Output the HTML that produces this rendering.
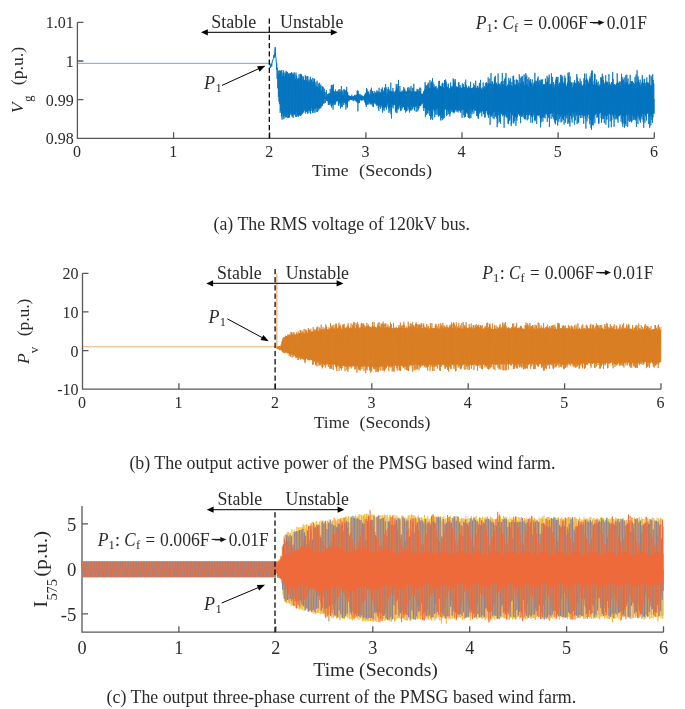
<!DOCTYPE html>
<html lang="en"><head><meta charset="utf-8"><title>Figure</title>
<style>html,body{margin:0;padding:0;background:#fff}svg{display:block}text{font-family:"Liberation Serif","Times New Roman",serif}</style>
</head><body>
<svg width="685" height="709" viewBox="0 0 685 709">
<rect width="685" height="709" fill="#fff"/>
<path d="M77.4 63.3H269.5" stroke="#0072bd" stroke-width="0.9" fill="none" opacity="0.68"/>
<polyline points="269.5,63.3 270,64.5 270.5,68 271.1,63.5 271.7,66.5 272.3,61 272.9,60 273.4,58.5 273.9,55 274.4,57.5 274.8,52 275.2,47.2 275.6,56 276,58 276.4,64" fill="none" stroke="#0072bd" stroke-width="1.0" stroke-linejoin="round"/>
<polyline points="276.4,64 276.5,69.4 276.8,63.5 277.1,78.9 277.4,67.8 277.7,88.3 278.1,74.6 278.4,97.1 278.7,70.9 279,101.8 279.3,70.2 279.6,104.2 279.9,73.2 280.2,112.9 280.5,70.9 280.8,110.9 281.2,70.4 281.5,116.3 281.8,70 282.1,119.7 282.4,75.7 282.7,114.1 283,72.7 283.3,117.2 283.6,70.4 283.9,119.2 284.3,75.9 284.6,115.5 284.9,72.5 285.2,117.4 285.5,73.8 285.8,117.2 286.1,70.8 286.4,117.2 286.7,71.8 287,114.4 287.4,71.9 287.7,117.9 288,75.3 288.3,118 288.6,73.7 288.9,117.5 289.2,72.9 289.5,117.3 289.8,74.7 290.1,114.9 290.5,73.3 290.8,113.3 291.1,73.1 291.4,114.6 291.7,72 292,116.7 292.3,73.4 292.6,116 292.9,75.2 293.2,118 293.6,73.7 293.9,114.5 294.2,72.3 294.5,114.5 294.8,74.7 295.1,114.5 295.4,78.9 295.7,116.7 296,72.6 296.3,117 296.7,75.7 297,112 297.3,79.4 297.6,115.6 297.9,78.3 298.2,117 298.5,78.4 298.8,115.4 299.1,74.3 299.4,115.2 299.8,77.7 300.1,115.9 300.4,73.8 300.7,115.9 301,74.9 301.3,115.1 301.6,74.3 301.9,112.4 302.2,76.1 302.5,114.1 302.9,79.2 303.2,112.1 303.5,76.6 303.8,112.7 304.1,80.5 304.4,110.3 304.7,79.9 305,110.7 305.3,75.2 305.6,113.5 306,76.3 306.3,111.6 306.6,80.4 306.9,111.9 307.2,76.1 307.5,113.6 307.8,76.1 308.1,113.1 308.4,81.2 308.7,110.8 309.1,79.5 309.4,110.4 309.7,81.7 310,112.6 310.3,76.8 310.6,113.8 310.9,79.1 311.2,111 311.5,79.8 311.8,108.1 312.2,82.6 312.5,112.8 312.8,77.9 313.1,112.9 313.4,81.4 313.7,110.5 314,78.7 314.3,108.9 314.6,78.9 314.9,112.8 315.3,84.5 315.6,108.6 315.9,82 316.2,111.9 316.5,86.6 316.8,107.7 317.1,80.8 317.4,112 317.7,86.8 318,108.1 318.4,83.5 318.7,110.5 319,87.7 319.3,108.7 319.6,82.8 319.9,108.8 320.2,86.6 320.5,107.6 320.8,84.6 321.1,107.6 321.5,90.3 321.8,105.8 322.1,86 322.4,105.9 322.7,86.8 323,103.4 323.3,87.4 323.6,103.5 323.9,91.9 324.2,103.5 324.6,88.8 324.9,98.7 325.2,92.1 325.5,103 325.8,96.5 326.1,98.7 326.4,90.2 326.7,101 327,96.9 327.2,100.7 327.4,94.1 327.7,101.4 328.1,94.7 328.3,104.8 328.6,93.5 328.9,105 329.2,93.8 329.4,104.6 329.7,93.1 330,102.4 330.2,88.9 330.5,103.4 330.8,92.7 331,105.7 331.3,85.4 331.6,107.4 331.9,85 332.1,105.2 332.4,88.1 332.7,105.1 332.9,84.9 333.1,109.6 333.4,84.4 333.7,103.5 333.9,91.6 334.2,102.6 334.4,91.4 334.7,104.8 334.9,92.1 335.2,104.5 335.4,89.5 335.7,103.3 336,94.1 336.2,101 336.6,91.9 336.8,101.5 337,91.2 337.3,101.1 337.6,90.8 337.8,100.6 338.1,93.5 338.4,105.3 338.7,89.5 338.9,105.8 339.2,92.3 339.5,102.7 339.8,89.2 340,103.4 340.3,92.2 340.6,108.5 340.9,90.5 341.1,103.9 341.4,86 341.6,106.9 341.9,91.9 342.2,107.1 342.4,92 342.7,102.5 342.9,90.2 343.2,101.2 343.4,94.7 343.7,105.1 344,89 344.2,102.9 344.5,90.2 344.8,102.6 345.1,92.7 345.4,104.5 345.7,90 345.9,109.5 346.2,90.3 346.4,103.8 346.7,86.9 347,106.9 347.3,91.9 347.5,107.6 347.7,92.6 348.1,101.6 348.3,95.2 348.5,99.9 348.8,95.5 349.1,101.2 349.4,95.8 349.7,99.7 349.9,96.2 350.1,99.9 350.4,96.3 350.6,99.3 350.9,96.4 351.1,100 351.3,96.1 351.6,99.3 351.8,94.7 352.1,100.4 352.4,96.4 352.7,99.4 353,96.2 353.3,100.8 353.5,96.4 353.8,101.1 354.1,96.4 354.4,99.4 354.6,95 354.8,99.9 355.1,94.9 355.3,100.4 355.6,95.9 355.9,101.3 356.2,94.7 356.5,100.6 356.7,95 356.9,102.3 357.2,91 357.4,102.3 357.7,90.2 357.9,111.3 358.1,91.1 358.4,103.3 358.7,93.6 359,101.7 359.2,94.4 359.5,103 359.7,95.9 360,100 360.3,94.2 360.5,100.2 360.8,95.6 361,99.8 361.3,95.6 361.6,100.7 361.8,95.4 362,100 362.3,95.7 362.6,100.3 362.9,96.9 363.1,99.5 363.4,96.5 363.7,99.5 364,96.1 364.2,100.4 364.5,95.3 364.7,102.1 365,93.9 365.2,102.5 365.5,93.6 365.7,104.8 366,92.5 366.3,107 366.6,88.1 366.9,104.9 367.1,89.2 367.3,104.4 367.6,91.8 367.8,102.1 368.1,91.3 368.4,104.4 368.7,91.9 368.9,101.4 369.2,94.2 369.5,102.5 369.7,94.5 370,104.5 370.3,89.7 370.6,103.9 370.8,93.2 371.1,103.2 371.4,87.7 371.7,104.7 372,92.6 372.3,103.3 372.6,90.9 372.8,106.5 373,93.7 373.4,107.1 373.7,93 373.9,104.1 374.2,91.1 374.5,103.1 374.7,94.9 375,102.2 375.4,93.1 375.7,104.3 375.9,91.9 376.1,102.7 376.4,92.8 376.6,105.5 376.9,90.3 377.1,105.7 377.4,92 377.7,104.8 378,91.3 378.3,107.9 378.5,92.1 378.8,110.9 379.1,87.7 379.4,105.7 379.7,92.7 379.9,106.9 380.2,92.8 380.4,108.8 380.7,92.5 381,103.4 381.3,88.9 381.6,105.7 381.8,90.1 382.1,108.1 382.4,87.4 382.6,112.6 382.9,90.1 383.1,109.8 383.4,91.6 383.7,107.1 384,91.5 384.2,110.8 384.5,87.7 384.7,107.7 385,90.4 385.3,106.8 385.6,84.1 385.8,107.4 386.1,87.3 386.4,109.7 386.7,93.7 387,104.8 387.2,89.1 387.5,102.9 387.7,93.9 388,107.2 388.3,86.9 388.5,108.7 388.7,90.5 388.9,112.9 389.2,89.5 389.5,108.3 389.7,92.2 390,111.5 390.2,91.7 390.5,107 390.8,82.7 391,114.3 391.2,91.1 391.5,118.5 391.8,91.1 392,106.7 392.4,91.9 392.7,105 392.9,87.9 393.1,108.5 393.4,91.2 393.7,105.4 393.9,93.9 394.2,104.7 394.6,92.4 394.8,104.5 395.1,91.4 395.4,111.4 395.6,90.4 395.9,112.6 396.2,83.9 396.5,110.9 396.7,86.4 397,113.1 397.3,88.3 397.6,108.5 397.9,84 398.2,109.7 398.5,79.9 398.8,108.1 399,91.7 399.3,105.6 399.5,91.6 399.7,105.9 399.9,86 400.2,108.7 400.4,92.1 400.7,111.1 401,91.6 401.2,110.4 401.5,92 401.8,105.8 402,90.7 402.3,108.5 402.6,91.7 402.9,106.7 403.2,90.2 403.4,107 403.7,87 404,107.5 404.3,90.7 404.5,110 404.7,88.5 405,110.1 405.2,90.5 405.5,112.5 405.8,91.9 406.1,111 406.4,91.5 406.6,111.3 407,91.2 407.2,106.5 407.5,87.7 407.8,110.5 408.1,89.9 408.5,107.2 408.8,87.1 409,109.3 409.3,90.3 409.6,112.6 409.9,88.4 410.1,110.4 410.4,91.3 410.7,110.4 411,85.9 411.3,106.4 411.5,91.5 411.8,110.3 412.1,91.3 412.4,108.4 412.7,87.9 412.9,109 413.2,87.8 413.5,106.7 413.8,83.8 414,106.5 414.3,91.2 414.5,110.6 414.9,91.9 415.2,106.7 415.4,91.7 415.7,106.5 416,91.6 416.2,111.9 416.4,91.8 416.7,106.2 417,88.9 417.3,107.4 417.6,90 417.8,111.4 418.1,89.3 418.4,109.5 418.7,91.1 418.9,108.3 419.2,91 419.4,105.9 419.7,87.7 420,105.9 420.2,91.9 420.5,106.1 420.7,87.7 421,105.4 421.3,93.7 421.6,104.2 421.8,94 422.1,103.8 422.4,94.3 422.7,102.8 423,93.2 423.3,108 423.6,91.5 423.8,110.9 424.1,91 424.3,108 424.6,89.3 424.9,108.2 425.1,82.1 425.4,117.2 425.7,85.4 425.9,108.2 426.2,85.6 426.4,114.9 426.7,88.8 426.9,109.1 427.1,85.7 427.4,113 427.7,84.2 428,113.9 428.3,82.6 428.6,110.1 428.9,87.6 429.1,111 429.3,88.2 429.6,115.8 429.9,80.2 430.2,109.8 430.4,87.9 430.7,119.7 431,82.8 431.2,118.5 431.4,81.5 431.7,115.9 432,83.9 432.2,115.4 432.5,78.2 432.7,119.9 432.9,81.9 433.2,109.5 433.5,87.3 433.7,109.2 434,84.2 434.2,111.5 434.5,88.1 434.8,117.3 435,86.5 435.3,110.1 435.6,87 435.8,114.3 436.1,86.1 436.4,109.9 436.7,88.5 437,115 437.2,89.8 437.5,108.3 437.8,88.5 438.1,113.9 438.3,86.9 438.6,116.9 438.9,81 439.1,109.9 439.3,80.8 439.6,115.8 439.9,85.9 440.2,114.7 440.4,85.9 440.7,120.5 441,86 441.3,118.2 441.5,87.3 441.8,114.2 442.1,83.6 442.3,120.2 442.5,82.8 442.8,110.3 443,83.3 443.2,118.9 443.5,87.1 443.8,116.9 444,89.1 444.2,118.1 444.5,80 444.8,109.1 445.1,82.8 445.3,109.7 445.6,79.5 445.9,108.9 446.2,81.6 446.5,115.8 446.8,84.3 447.1,115.1 447.4,87 447.7,109.9 447.9,87.4 448.2,111.3 448.4,83.6 448.7,114.1 448.9,88.1 449.2,110.4 449.5,89.2 449.8,116.4 450.1,87.9 450.3,113.8 450.6,82.4 450.8,109.3 451.1,86.5 451.3,109.7 451.5,87.4 451.8,112 452.1,86.7 452.4,110.9 452.7,85.8 453,112.5 453.2,78.4 453.5,111.8 453.8,79.6 454,113.3 454.3,83.1 454.6,112.2 454.8,81.5 455,110.2 455.3,79.1 455.6,109.9 455.9,88.5 456.2,111.7 456.4,86.4 456.7,109.9 456.9,88.1 457.1,109.6 457.4,86.8 457.6,111.2 457.8,87.3 458.1,112.5 458.4,82.4 458.7,110.3 458.9,82.1 459.2,109.7 459.5,87.5 459.8,111.1 460.1,84.9 460.4,111.9 460.7,86.9 460.9,113 461.2,88.2 461.5,110 461.8,88 462.1,117.9 462.3,83.4 462.6,110 462.9,86.7 463.2,109.5 463.5,84.3 463.8,115.2 464,87 464.3,117.5 464.6,87 464.9,116 465.2,82.1 465.5,116.9 465.7,79.6 466,112.7 466.3,85.2 466.5,111.9 466.8,87.4 467,113.8 467.3,89 467.6,113.1 467.8,88.1 468.1,117.1 468.4,86.6 468.7,118 468.9,85.9 469.2,109.5 469.5,87.7 469.7,118.7 470,88.6 470.3,112.9 470.6,81.8 470.9,118 471.2,88.2 471.5,109.6 471.7,88.4 472,114.2 472.2,88.2 472.4,112.1 472.7,87.8 472.9,109.8 473.2,87.1 473.4,108.6 473.7,83.4 473.9,113.5 474.1,88.6 474.4,110.2 474.6,85.1 474.9,110.3 475.1,87.8 475.4,110.7 475.7,80.7 476,110.5 476.3,87.9 476.6,116 476.9,88.6 477.1,110.2 477.3,86 477.6,116.1 477.8,85.9 478.1,118.3 478.4,88.4 478.6,118.7 478.9,87.6 479.1,114 479.4,82.8 479.7,112.1 479.9,87.3 480.2,112.8 480.5,79.9 480.8,111 481,87.7 481.3,111.8 481.5,89.4 481.8,116.4 482.1,89.5 482.4,110.8 482.7,87.4 482.9,111.5 483.2,82.5 483.6,114.2 483.9,88.2 484.1,112.3 484.4,86.3 484.7,117.5 484.9,89.5 485.2,117.3 485.4,82.9 485.7,113 485.9,87.3 486.2,111.1 486.5,82.3 486.8,111.1 487.1,83.1 487.4,114.2 487.7,85.8 487.9,115.2 488.2,77.3 488.4,118 488.7,83 489,115.1 489.3,84.2 489.6,113.9 489.8,78.7 490.1,124.9 490.4,83.1 490.7,116.7 491,73.2 491.3,116.5 491.6,84.3 491.9,114.3 492.2,81.2 492.5,115.6 492.7,82.1 493,118.1 493.3,84 493.5,112.4 493.8,83.8 494.1,119.2 494.4,77.1 494.7,111.8 494.9,80.3 495.2,116.6 495.4,75.8 495.7,116.4 495.9,83.8 496.2,114.3 496.4,82.7 496.7,118.5 497,84.7 497.2,127.2 497.6,84.6 497.8,123.4 498.1,73.5 498.3,115.3 498.6,82.9 498.9,112.9 499.1,86.7 499.4,121.9 499.6,84.1 499.9,114.1 500.2,83.7 500.4,123.6 500.7,86.2 500.9,114.4 501.2,81.8 501.5,114 501.8,81.1 502,113.3 502.3,73 502.6,116.3 502.8,85 503.1,115 503.4,84.5 503.6,115 503.9,81.1 504.1,127.8 504.4,78.8 504.6,117 504.9,85.2 505.2,114.2 505.5,77.4 505.8,115.4 506,73.1 506.3,117.5 506.5,86.3 506.8,117 507.1,86.4 507.4,117.5 507.7,84.8 508,123.5 508.3,83.7 508.5,124.1 508.7,77.9 509,113.2 509.3,85.3 509.6,120.9 509.8,80.6 510,119.2 510.4,78.3 510.6,112.5 510.9,85.9 511.2,126.1 511.4,85.3 511.6,124 511.9,81.9 512.2,114.7 512.5,86 512.8,115.3 513,76 513.3,122.8 513.6,75.7 513.8,123.4 514.1,79.9 514.3,121.2 514.6,84.3 514.8,116.4 515.1,86.1 515.3,117.1 515.6,84.5 515.9,125.9 516.2,79.5 516.4,117.8 516.7,79.7 516.9,120.8 517.2,85.7 517.5,116.7 517.7,80.2 518,114 518.3,83.8 518.5,114.4 518.8,82.5 519,113.8 519.3,74.4 519.6,116.1 519.8,86.8 520.1,115.1 520.4,83.5 520.6,123.2 520.8,77.9 521.1,113.4 521.3,76.6 521.6,116.9 521.8,81.8 522.1,114.2 522.4,76.2 522.7,115.9 523,85.2 523.2,117.5 523.5,81.7 523.8,113.9 524.1,74.4 524.4,119 524.7,84.7 525,119.4 525.3,76.3 525.5,119.1 525.8,73.1 526,114.3 526.3,84.7 526.5,114.9 526.8,75.5 527.1,120.4 527.3,84.6 527.6,115.2 527.8,79.1 528.1,119.3 528.3,86.9 528.6,115.8 528.9,77.3 529.1,113.9 529.4,80.6 529.6,114.9 529.9,83.5 530.2,115.2 530.5,79.1 530.8,122.7 531,82.5 531.3,115.4 531.5,83.8 531.8,117.1 532.2,79.4 532.5,122.7 532.7,86.6 533,116.6 533.3,84.7 533.5,114.5 533.8,83.1 534.1,112.9 534.3,82 534.6,120.2 534.9,72.8 535.1,121.4 535.4,80.7 535.6,119.7 535.9,84.9 536.2,117.4 536.5,80.8 536.7,124 537.1,86.2 537.3,115.1 537.6,78.4 537.8,115.2 538.1,76.5 538.4,116.1 538.6,81.7 538.9,114.6 539.1,85.2 539.5,115.3 539.7,79.9 540.1,118 540.4,81.9 540.6,127.4 540.9,79.7 541.2,122.4 541.5,79.6 541.8,118.5 542.1,86.1 542.3,117.3 542.6,79.4 542.9,121.5 543.2,84 543.5,116.8 543.7,85 544,117.9 544.3,84.1 544.5,115.5 544.8,84.7 545.1,118.3 545.4,78.6 545.7,113.5 545.9,86.5 546.2,114.6 546.5,82 546.8,113.3 547.1,75.9 547.3,121.9 547.6,80.7 547.9,115.9 548.2,77.7 548.4,117.9 548.7,84.5 548.9,114.5 549.2,74.6 549.4,126.9 549.7,84.3 550,113.6 550.3,85.1 550.5,113.9 550.8,83.6 551.1,118.8 551.4,73.2 551.6,113.2 551.9,85.5 552.1,113.2 552.4,76.9 552.7,116.8 553,87.3 553.3,118.8 553.6,82 553.8,112.6 554.1,84.1 554.3,120.4 554.6,87.2 554.9,122.6 555.2,85.4 555.4,124.3 555.7,79.9 555.9,120.2 556.2,77.4 556.5,120.3 556.8,76.8 557.1,113.9 557.4,79.2 557.7,125.6 558,76.9 558.2,114.3 558.5,86.1 558.8,121.8 559,84 559.3,118.9 559.5,82.5 559.8,114.4 560.1,84.1 560.4,116.8 560.7,74.8 561,122.4 561.2,78.7 561.5,114.3 561.7,75.1 562,121.4 562.2,80.7 562.5,118.7 562.7,76.5 563,114.3 563.3,83.1 563.5,120 563.8,84.5 564.1,124.7 564.3,81.6 564.6,115.3 564.8,75.6 565.1,116.2 565.3,78.1 565.6,122.7 565.9,83.8 566.1,114.1 566.4,86.1 566.7,118.2 567,86.1 567.2,115.4 567.5,82.1 567.8,124 568,72.8 568.3,113.7 568.6,75.7 568.8,122.4 569.1,72.2 569.4,123.2 569.7,80.6 569.9,126.5 570.2,76.4 570.4,116 570.7,82.9 571,115 571.3,82.9 571.6,119.1 571.8,82 572.1,122.6 572.4,87.1 572.7,113.2 573,83.4 573.2,117.2 573.5,85.3 573.8,115 574.1,82 574.4,124.7 574.6,80.3 574.9,112.2 575.2,83.1 575.4,120.4 575.6,82.8 576,112.7 576.2,83.5 576.5,115.6 576.8,74 577.1,124.1 577.3,77.4 577.6,114.1 577.8,82.9 578.1,122.3 578.4,81.1 578.7,122.8 579,85.9 579.3,115.4 579.6,82.9 579.9,114.6 580.1,78.6 580.4,118 580.7,83.8 581,114.8 581.2,81.2 581.5,115.3 581.8,85 582,118 582.3,86.4 582.6,114.7 582.8,85.7 583.2,115.7 583.4,84.1 583.7,123.7 583.9,78.3 584.2,116.3 584.5,73.6 584.8,114.8 585.1,79.9 585.4,119.1 585.7,84.8 585.9,128.6 586.2,73.6 586.4,114.9 586.7,78.5 587,121.4 587.3,79.7 587.6,117.2 587.9,80.9 588.1,114.3 588.4,82.9 588.6,114.4 588.9,84 589.2,118.8 589.4,78.5 589.8,124.3 590.1,76.3 590.4,120 590.7,79.2 591,127.9 591.2,72.9 591.5,129.8 591.8,70.6 592,121.8 592.3,70.7 592.6,125.2 592.9,83.8 593.2,125.3 593.5,85.1 593.7,119.2 594,80.7 594.2,115.6 594.5,73.7 594.8,123.3 595,74.3 595.3,114.9 595.6,85 595.8,113.9 596.1,83.3 596.4,112.8 596.6,79.5 596.9,117.8 597.2,82.7 597.5,116.7 597.8,85.9 598,116.9 598.2,81.5 598.5,123.4 598.7,86.1 599,123.5 599.2,86.8 599.5,113.6 599.7,84.4 600,112.4 600.3,85.4 600.6,112.8 600.8,77.2 601.1,117.9 601.3,77.5 601.6,122.7 601.8,78.5 602.1,119.3 602.3,73.7 602.6,115.2 602.9,76.2 603.2,118.3 603.5,80.3 603.7,118.8 604,84.7 604.3,123.2 604.6,83.6 604.9,115.5 605.2,81.8 605.4,116.2 605.7,75.2 605.9,124.6 606.2,81.6 606.5,119 606.7,81.8 607,119.6 607.3,81.8 607.6,115.8 607.8,83 608.1,112.8 608.4,85 608.7,127.7 608.9,74.2 609.2,114.4 609.4,82.3 609.7,114 610,83.6 610.2,121.2 610.5,85.3 610.8,115 611.1,84.5 611.3,127.2 611.6,82.1 611.9,120.2 612.2,82.5 612.5,113.8 612.7,71.9 613,115.5 613.2,79 613.5,118.1 613.8,84 614.1,126.7 614.4,84 614.7,114.7 615,85.4 615.3,119.4 615.5,84.7 615.8,115 616.1,85.1 616.4,117.7 616.6,83.1 616.9,119.4 617.2,73.3 617.5,119.1 617.7,80.9 618,122.7 618.3,83.1 618.5,116 618.8,82.9 619.1,116.4 619.4,81.8 619.6,115.5 619.8,85.3 620.1,114.7 620.3,81.4 620.6,114.5 620.9,85.6 621.1,121.7 621.5,73.8 621.7,118.4 622,76.9 622.3,124.1 622.5,78.9 622.8,126.8 623,83.2 623.3,116.3 623.6,79.7 623.9,123.3 624.2,77.3 624.5,127.7 624.7,84.1 625,116.9 625.3,81.8 625.5,124.1 625.8,75.2 626,125.9 626.3,83.7 626.6,114.7 626.8,74.7 627.1,115.4 627.4,81.8 627.7,126.8 628,78.5 628.2,120.7 628.5,85 628.8,113.8 629.1,84.2 629.4,121.9 629.7,83.5 629.9,117.5 630.2,74.8 630.5,121.2 630.7,84.4 631,115.3 631.2,81.3 631.5,122.3 631.7,81.1 632,121.3 632.3,81 632.6,115.5 632.9,82.3 633.2,119.8 633.4,82.8 633.6,119.3 633.9,85 634.2,119.9 634.5,83.9 634.7,116.7 635,77 635.4,120.4 635.6,82.2 635.9,118.7 636.1,74.5 636.4,126.8 636.6,84.4 636.9,117.4 637.1,70.3 637.4,114.1 637.6,82.1 637.9,123.9 638.1,76.4 638.3,115.8 638.6,79.7 638.8,117.4 639.1,82.2 639.3,119.2 639.6,84.2 639.9,120.7 640.2,79.6 640.4,122.6 640.7,85.6 640.9,114.1 641.2,85.3 641.5,116.5 641.8,82.5 642,119.4 642.3,75.2 642.6,114.1 642.9,79.2 643.2,121.7 643.5,82.8 643.7,127.9 644,85.9 644.3,114.1 644.6,78.8 644.9,122.7 645.1,83 645.4,115.6 645.7,86 645.9,116.2 646.2,82.5 646.5,120.6 646.8,77.4 647.1,113.9 647.3,82.6 647.6,113.4 647.9,82.2 648.1,112.7 648.4,83 648.7,124.1 649,84.3 649.2,116.8 649.4,74.7 649.7,127.8 650,84.9 650.3,114 650.5,86 650.8,125.4 651,75.6 651.2,116.1 651.5,85.1 651.8,119.7 652.1,77.1 652.4,122.8 652.7,74.2 653,117.5 653.2,80 653.5,113.2 653.8,83.4 654.1,113.8 654.3,99" fill="none" stroke="#0072bd" stroke-width="0.75" stroke-linejoin="round"/>
<path d="M77.4 22.3V138.3H654.3M173.6 138.3v-6M269.7 138.3v-6M365.9 138.3v-6M462 138.3v-6M558.1 138.3v-6M654.3 138.3v-6M77.4 22.3h6M77.4 61h6M77.4 99.7h6" fill="none" stroke="#585858" stroke-width="1.3"/>
<text x="73.7" y="28.1" font-size="16" text-anchor="end" fill="#2a2a2a">1.01</text>
<text x="73.7" y="66.8" font-size="16" text-anchor="end" fill="#2a2a2a">1</text>
<text x="73.7" y="105.5" font-size="16" text-anchor="end" fill="#2a2a2a">0.99</text>
<text x="73.7" y="144.1" font-size="16" text-anchor="end" fill="#2a2a2a">0.98</text>
<text x="77" y="157" font-size="16" text-anchor="middle" fill="#2a2a2a">0</text>
<text x="173.2" y="157" font-size="16" text-anchor="middle" fill="#2a2a2a">1</text>
<text x="269.3" y="157" font-size="16" text-anchor="middle" fill="#2a2a2a">2</text>
<text x="365.5" y="157" font-size="16" text-anchor="middle" fill="#2a2a2a">3</text>
<text x="461.6" y="157" font-size="16" text-anchor="middle" fill="#2a2a2a">4</text>
<text x="557.8" y="157" font-size="16" text-anchor="middle" fill="#2a2a2a">5</text>
<text x="653.9" y="157" font-size="16" text-anchor="middle" fill="#2a2a2a">6</text>
<text x="312" y="175.5" font-size="17.5" textLength="36.6" lengthAdjust="spacingAndGlyphs" fill="#2a2a2a">Time</text>
<text x="359.1" y="175.5" font-size="17.5" textLength="72.9" lengthAdjust="spacingAndGlyphs" fill="#2a2a2a">(Seconds)</text>
<text transform="translate(23.4 113.2) rotate(-90)" font-size="17.5" font-style="italic" fill="#2a2a2a">V</text>
<text transform="translate(32 101.8) rotate(-90)" font-size="12.5" fill="#2a2a2a">g</text>
<text transform="translate(23.4 85.2) rotate(-90)" font-size="17.5" textLength="38.2" lengthAdjust="spacingAndGlyphs" fill="#2a2a2a">(p.u.)</text>
<text x="211.3" y="28.1" font-size="17.8" textLength="44.9" lengthAdjust="spacingAndGlyphs" fill="#2a2a2a">Stable</text>
<text x="280" y="28.1" font-size="17.8" textLength="63.4" lengthAdjust="spacingAndGlyphs" fill="#2a2a2a">Unstable</text>
<path d="M204 32.3H334.6" stroke="#2a2a2a" stroke-width="1.2" fill="none"/>
<path d="M201 32.3l6.8 -3.1v6.2z" fill="#000"/>
<path d="M337.6 32.3l-6.8 -3.1v6.2z" fill="#000"/>
<path d="M269.3 18.4V138.3" stroke="#000" stroke-width="1.25" stroke-dasharray="5.3 2.9" fill="none"/>
<text x="204" y="89.3" font-size="18" font-style="italic" textLength="11" lengthAdjust="spacingAndGlyphs" fill="#2a2a2a">P</text>
<text x="215.4" y="92.3" font-size="12.5" fill="#2a2a2a">1</text>
<path d="M222 85.4L262.7 66.9" stroke="#000" stroke-width="1" fill="none"/>
<path d="M265.4 65.7L259.5 71.7L257.1 66.2z" fill="#000"/>
<text x="475.8" y="28.9" font-size="18" font-style="italic" textLength="10.8" lengthAdjust="spacingAndGlyphs" fill="#2a2a2a">P</text>
<text x="486.6" y="31.7" font-size="12.5" fill="#2a2a2a">1</text>
<text x="493.2" y="28.9" font-size="18" fill="#2a2a2a">:</text>
<text x="502.4" y="28.9" font-size="18" font-style="italic" textLength="11.3" lengthAdjust="spacingAndGlyphs" fill="#2a2a2a">C</text>
<text x="514" y="31.7" font-size="12.5" fill="#2a2a2a">f</text>
<text x="523.6" y="28.9" font-size="18" textLength="9.6" lengthAdjust="spacingAndGlyphs" fill="#2a2a2a">=</text>
<text x="538.2" y="28.9" font-size="18" textLength="49.6" lengthAdjust="spacingAndGlyphs" fill="#2a2a2a">0.006F</text>
<text x="589.8" y="26" font-size="18" textLength="14.5" lengthAdjust="spacingAndGlyphs" fill="#2a2a2a">→</text>
<path d="M589.8 22.5H599.8" stroke="#111" stroke-width="1.1" fill="none"/>
<path d="M604.6 22.5l-6.2 -2.4v4.8z" fill="#111"/>
<text x="606.8" y="28.9" font-size="18" textLength="40" lengthAdjust="spacingAndGlyphs" fill="#2a2a2a">0.01F</text>
<text x="213.5" y="230" font-size="18.2" textLength="256.5" lengthAdjust="spacingAndGlyphs" fill="#2a2a2a">(a) The RMS voltage of 120kV bus.</text>
<path d="M82.5 346.8H276.6" stroke="#d97c20" stroke-width="1.1" fill="none" opacity="0.6"/>
<path d="M276.9 347V273.5" stroke="#d97c20" stroke-width="1.0" fill="none" opacity="0.75"/>
<polyline points="276.2,346.8 277.2,348.7 277.4,346.7 277.7,349 278,346.7 278.2,349.1 278.4,346.6 278.7,349.2 278.9,346.2 279.1,349.4 279.4,346.2 279.6,350.1 279.8,346.6 280.1,349.8 280.4,346.5 280.6,349.9 280.8,345.6 281.1,350.1 281.3,344.1 281.6,350.2 281.9,341.7 282.1,351.4 282.4,340.3 282.6,351.6 282.9,338.4 283.1,352.6 283.3,338.5 283.6,352.6 283.9,336.9 284.1,352.7 284.4,337.2 284.7,353.3 285,337 285.2,351.8 285.5,335.7 285.8,352.5 286,336 286.2,352.5 286.5,336.3 286.7,352.4 287,336 287.3,352.6 287.6,334.7 287.8,353.6 288,336.2 288.3,352.9 288.5,334.7 288.7,353.2 289,335.9 289.2,356 289.5,334.5 289.7,353.9 289.9,335.2 290.2,354.3 290.5,335.2 290.7,356.8 291,331.9 291.2,354.1 291.5,332.3 291.7,354.5 292,333.5 292.2,357.6 292.5,334.8 292.8,355 293.1,332.5 293.3,354.9 293.5,335 293.8,356.8 294,332.4 294.3,355.3 294.5,334.3 294.8,355.4 295.1,334.9 295.3,356 295.6,334.8 295.8,357.7 296.1,333.8 296.3,358 296.6,332.3 296.9,356.1 297.1,334.3 297.4,357.3 297.7,334 298,359.8 298.2,331.4 298.4,360 298.7,333.4 298.9,356.8 299.2,333 299.5,357.1 299.7,333.5 299.9,358.7 300.2,330 300.4,359.7 300.7,330.4 301,357.1 301.2,332.5 301.4,358.1 301.6,333.5 301.9,359.2 302.1,330.6 302.4,357.8 302.6,333.2 302.8,358.7 303.1,331.9 303.3,359.6 303.6,333.2 303.8,359.3 304.1,329 304.4,359.9 304.7,333.4 304.9,363.1 305.2,332.9 305.4,361.5 305.6,329.6 305.9,358.6 306.2,331.6 306.4,358.6 306.7,330 307,358.7 307.2,332.5 307.5,359.6 307.7,332.9 308,359.3 308.3,328.2 308.5,360.3 308.7,328.7 309,359.5 309.3,330 309.5,360.4 309.8,330.2 310.1,359.6 310.3,332.2 310.5,359.3 310.8,328.8 311,360.1 311.3,332.2 311.5,359.9 311.7,331.7 312,360 312.2,331.3 312.5,364.6 312.7,332 312.9,360.8 313.2,327.1 313.4,364.6 313.7,331.5 314,360.5 314.2,331.5 314.5,361.2 314.7,329.3 315,362.4 315.3,330.2 315.6,365.1 315.8,331.9 316,365.4 316.3,328.8 316.6,362.6 316.8,327.1 317,366.3 317.3,331.1 317.5,361 317.7,326.5 318,362.9 318.2,330.6 318.5,361.2 318.7,331.4 318.9,365.6 319.2,327.4 319.5,364.8 319.7,329.7 319.9,361.4 320.2,331.3 320.4,365.3 320.6,328.7 320.9,363.1 321.2,324.6 321.4,363.6 321.6,330.6 321.9,367.1 322.1,329 322.4,368.5 322.7,329.1 322.9,367 323.1,327 323.4,363.1 323.7,330.2 323.9,365 324.2,329.6 324.4,365.5 324.7,328.4 324.9,364.1 325.2,330.6 325.4,367.6 325.7,324.5 325.9,363.7 326.2,326.3 326.4,363.3 326.6,327 326.8,365.3 327,329.7 327.3,363.9 327.6,329.3 327.9,364.1 328.1,330.1 328.4,367 328.6,329.4 328.8,364 329,327.4 329.3,364.4 329.6,329.7 329.8,368.8 330,328.7 330.3,364.1 330.5,323.1 330.7,368.5 330.9,329.1 331.2,367.3 331.5,326.8 331.8,368.8 332.1,325.7 332.3,364 332.6,327.9 332.8,365.1 333.1,324.8 333.3,370.2 333.6,328.6 333.9,364 334.1,329.4 334.4,364.3 334.6,327.6 334.9,364.3 335.2,324.4 335.4,365 335.6,329.3 335.8,366.8 336.1,323.3 336.3,368.3 336.6,324.9 336.8,371.2 337,328.5 337.2,366.8 337.4,328.4 337.7,365.7 337.9,328.8 338.1,365.5 338.4,327.8 338.7,364.7 338.9,322.8 339.1,370.9 339.3,325.9 339.6,366 339.8,326 340,367.7 340.3,324.7 340.5,368.3 340.8,327.6 341.1,366.1 341.3,329 341.5,370.3 341.8,329.1 342,368.1 342.3,327.3 342.5,365.5 342.8,324.7 343,365.2 343.2,324.6 343.5,365.9 343.7,326.1 344,365.6 344.2,323.9 344.4,366.1 344.7,328.2 345,371.2 345.2,327.6 345.4,366.5 345.7,328.4 346,365.6 346.2,328.9 346.5,367 346.7,327.4 346.9,370.1 347.2,326.6 347.4,366.2 347.7,325.6 347.9,371.8 348.1,323.1 348.3,366.2 348.6,326.5 348.8,368.7 349.1,328.7 349.3,365.5 349.6,328.4 349.8,366.2 350,328.1 350.2,366.6 350.5,327 350.8,366.6 351,323.4 351.3,368.4 351.5,328.4 351.7,366 352,328 352.3,366 352.5,324.7 352.8,366.7 353,327.6 353.3,365.8 353.5,322.4 353.7,366.1 354,327 354.3,365.8 354.6,322.2 354.8,369.5 355,328.7 355.3,366.7 355.5,328.5 355.8,369.1 356.1,323.1 356.3,366.4 356.6,325.3 356.9,372.8 357.1,326.7 357.3,366.4 357.6,322.3 357.8,365.3 358.1,324.2 358.3,369.6 358.5,326.9 358.7,368.2 359,327.9 359.3,370.2 359.5,328.5 359.8,369.4 360.1,327.2 360.3,370.5 360.6,327.9 360.9,366.7 361.1,324 361.4,366.4 361.6,322.9 361.9,369.1 362.1,326 362.4,366.9 362.7,323.5 362.9,366.2 363.1,327.7 363.4,365.9 363.6,323.4 363.9,371.1 364.1,325.1 364.3,366.3 364.5,326.4 364.8,366.1 365.1,327.9 365.3,366.1 365.5,328 365.7,373.3 365.9,325.9 366.1,369.6 366.4,327 366.6,367.2 366.9,322.8 367.1,370.3 367.4,325.6 367.6,366.3 367.9,327.7 368.2,366.2 368.5,324.7 368.8,366.5 369,326.1 369.2,367.2 369.5,327 369.8,370.4 370,326.9 370.2,370.7 370.5,327.2 370.7,372.8 370.9,327.8 371.2,368.5 371.5,328.4 371.7,371.3 372,326.1 372.2,366.8 372.5,322.3 372.8,366.3 373.1,325.9 373.4,368.1 373.6,327.3 373.9,369.2 374.1,322 374.4,366.4 374.6,326.5 374.9,369.4 375.1,327 375.4,368.5 375.7,327.2 375.9,372.1 376.2,327.9 376.4,367.2 376.7,327.9 377,371.6 377.2,326.5 377.4,371.3 377.7,324.8 377.9,367.8 378.1,322.9 378.4,371.9 378.6,326.9 378.9,370.2 379.1,322.1 379.3,367.3 379.6,326.5 379.8,366.3 380.1,326.7 380.3,366 380.6,327.8 380.8,370.6 381.1,323.6 381.3,366.2 381.6,325.2 381.9,366.7 382.1,323.4 382.4,367.1 382.6,327.9 382.9,370.7 383.1,321.6 383.3,365.4 383.6,324.1 383.8,369.9 384.1,324.3 384.4,371.6 384.6,327.4 384.9,368.1 385.1,323.4 385.3,369.7 385.5,328 385.8,366.1 386,323.6 386.3,368.2 386.5,327.6 386.8,366.9 387,327.6 387.3,365.3 387.5,327 387.8,365.7 388,324.6 388.3,365.9 388.5,327.3 388.8,371.1 389,328.5 389.2,365.2 389.5,328.4 389.7,366.6 389.9,326.2 390.2,367.4 390.5,322.4 390.7,365.1 390.9,327.2 391.2,367.5 391.5,324.1 391.7,365.8 391.9,328.7 392.2,371.5 392.4,328.5 392.7,366.4 393,327.9 393.3,371.1 393.5,323.1 393.7,365.7 394,328.7 394.2,371.6 394.5,327.8 394.7,365.5 395,327.9 395.2,365.9 395.5,328.3 395.8,365.3 396.1,326.8 396.4,365.5 396.6,327.7 396.9,368.3 397.1,328.7 397.3,370.7 397.6,328.3 397.8,366.7 398,328.2 398.2,365.4 398.5,327.3 398.7,365.1 399,325 399.2,370.1 399.4,327.7 399.6,369.8 399.9,328.3 400.1,371.1 400.4,322.6 400.6,370.7 400.8,327.9 401,364.8 401.3,326.1 401.5,365.9 401.7,328.2 402,365.2 402.2,325.1 402.4,365.9 402.7,328 403,367.2 403.3,325.7 403.5,367.7 403.8,321.8 404.1,366.3 404.3,324.6 404.5,367 404.8,328.2 405,369.5 405.2,328 405.4,365.4 405.6,328.5 405.9,366.7 406.2,326.3 406.5,370.1 406.7,328.1 406.9,369.6 407.2,327.7 407.4,366.7 407.7,329.1 407.9,370.8 408.2,321.7 408.5,371 408.7,326.2 409,367.1 409.2,326.4 409.5,365.3 409.8,328.8 410,364.6 410.2,323.3 410.5,365.2 410.7,326.9 410.9,365.6 411.2,323.7 411.4,365.2 411.6,328.1 411.9,365.2 412.1,325.2 412.4,371.7 412.6,322.4 412.9,365.2 413.2,325.1 413.4,365 413.7,325.8 414,370.6 414.2,328.6 414.4,364.4 414.7,327.1 414.9,369.4 415.2,324.8 415.4,364.2 415.7,323.5 416,369.8 416.2,322.4 416.5,364.7 416.7,324.4 417,369.2 417.2,327.8 417.5,368.9 417.8,324.1 418,365.1 418.2,328.2 418.5,364.7 418.7,325.5 419,370.5 419.2,324.8 419.5,366.4 419.8,324.3 420,365.5 420.2,325.2 420.4,367.7 420.7,327.6 421,366.5 421.2,323.1 421.4,364.2 421.7,323.8 422,366 422.2,328.2 422.5,365.8 422.7,328.7 422.9,364.7 423.2,324.9 423.5,365.2 423.7,323.3 424,364.5 424.2,327.6 424.4,367.3 424.7,326.7 425,365.9 425.3,327.6 425.5,365.5 425.8,328.2 426.1,367.8 426.3,328.5 426.6,366.7 426.8,324 427.1,364.9 427.4,327 427.6,370.5 427.8,328.7 428.1,367 428.3,325.8 428.5,365.7 428.8,328.8 429.1,364.9 429.3,328.6 429.6,364.6 429.9,328.4 430.1,371 430.4,323.1 430.6,364.9 430.8,326.9 431.1,366.8 431.4,328.1 431.6,364.5 431.9,323.2 432.1,364.7 432.3,328.7 432.6,370.9 432.8,328.3 433,366.9 433.3,328.1 433.5,364.6 433.8,327.9 434,371 434.2,328 434.5,366.7 434.7,328.9 435,365.8 435.2,325.9 435.5,364.4 435.7,324.2 436,366.8 436.2,324.4 436.4,365.9 436.7,328.3 437,364.6 437.3,328.5 437.5,368.6 437.8,326.4 438,364.7 438.2,328.9 438.5,363.9 438.8,323.8 439,364.9 439.2,328.6 439.5,370.4 439.7,329 440,366.8 440.2,326.6 440.5,370.9 440.8,323.3 441.1,364.2 441.3,325.1 441.6,366.6 441.9,325.8 442.1,363.9 442.4,327.9 442.6,365 442.9,322.8 443.1,364.1 443.3,328.9 443.6,364.2 443.9,326.2 444.1,365.5 444.3,327.5 444.5,365.4 444.8,325.6 445,368.9 445.3,327.1 445.5,368.9 445.8,327.3 446.1,366.7 446.4,329 446.6,365 446.9,324.8 447.1,367.4 447.4,326.8 447.7,370 448,328.6 448.2,369.8 448.4,327.5 448.6,371.5 448.9,328.1 449.1,364.6 449.4,325.5 449.7,366.3 449.9,328.2 450.1,367.3 450.4,326.8 450.6,369 450.8,324.8 451.1,368.9 451.4,322.4 451.6,364.5 451.9,324.4 452.1,363.8 452.3,329.3 452.5,365.1 452.7,327.9 453,364.8 453.2,322.7 453.4,364.2 453.7,322.6 453.9,369 454.2,323.8 454.5,364.9 454.7,326.3 455,366.6 455.2,325.8 455.5,371.2 455.8,327.8 456,370.9 456.3,322.3 456.6,365.2 456.8,329 457.1,364.3 457.4,326.6 457.6,363.8 457.9,328.4 458.1,367.6 458.4,327.9 458.6,366.2 458.8,322.8 459.1,364.5 459.4,327.5 459.7,365.7 459.9,328 460.1,368.6 460.4,325.4 460.6,369.3 460.8,328.3 461.1,363.7 461.3,329 461.5,368.5 461.8,323.1 462.1,366 462.3,329 462.6,364.3 462.8,328.5 463,364.5 463.2,322.1 463.5,364.5 463.7,328.7 463.9,364.3 464.1,325.1 464.3,369.6 464.6,326.5 464.9,363.8 465.2,328.8 465.5,364.2 465.7,325.4 465.9,369.5 466.1,322.3 466.4,366.5 466.7,327.7 466.9,366.1 467.2,328.4 467.4,364 467.6,328.7 467.9,369.7 468.2,328.1 468.5,366.4 468.7,327.8 468.9,364 469.2,324.1 469.5,369.9 469.7,326.9 470,364.7 470.2,327.5 470.5,364.9 470.7,328.5 471,364 471.2,323.5 471.4,368.8 471.7,326.9 471.9,365.4 472.1,328.5 472.4,364.5 472.6,328.7 472.9,365 473.2,325 473.5,364.7 473.7,325.2 474,370.1 474.2,327.5 474.5,364.5 474.8,328.1 475,364.4 475.3,325.3 475.5,364.1 475.7,328.6 475.9,366.2 476.2,324.1 476.5,364.6 476.7,327 477,365.5 477.3,325.5 477.5,370.8 477.8,326.2 478,366 478.3,326.8 478.5,365.6 478.7,324.7 479,364.6 479.2,328 479.5,363.6 479.8,327.4 480,367.6 480.3,325.1 480.5,365 480.7,325.5 481,364.6 481.2,326.2 481.5,368.7 481.7,328.9 482,368.9 482.3,325.2 482.5,369.3 482.8,329.4 483,363.6 483.2,328.4 483.5,364.5 483.7,329.3 483.9,364.3 484.2,329.1 484.4,364.5 484.6,327.7 484.9,367.5 485.1,326.5 485.4,365.3 485.6,327.7 485.9,365.9 486.2,326.2 486.4,365.9 486.7,323.3 486.9,367.5 487.2,328 487.4,365 487.7,322.6 487.9,368.9 488.1,328.8 488.4,369.5 488.6,327.1 488.8,368.1 489.1,327.3 489.3,365.2 489.6,323.9 489.8,369.1 490,323.8 490.3,367.7 490.5,326.8 490.8,363.9 491,328.5 491.2,364.8 491.5,328.8 491.7,367.2 492,329.3 492.3,363.6 492.5,323.5 492.8,364.1 493.1,329.3 493.3,369 493.6,328.9 493.9,364.6 494.1,329 494.4,364.4 494.6,324.9 494.9,370.2 495.1,328.5 495.4,364 495.7,328.8 495.9,364.9 496.1,325.6 496.4,364.6 496.6,329.1 496.9,363.5 497.2,329.3 497.4,365 497.7,326.8 497.9,367.4 498.2,327.7 498.4,364.1 498.7,328.9 499,369.5 499.2,328.2 499.4,368.4 499.6,325.6 499.9,364.4 500.1,324.2 500.4,363.3 500.7,328.1 500.9,369.6 501.2,326.8 501.5,364.2 501.7,329.2 501.9,364.6 502.1,328.4 502.4,364 502.6,322.6 502.9,370.2 503.1,325.1 503.3,364 503.6,328.2 503.8,370.3 504.1,322.7 504.3,364.6 504.5,325.4 504.8,363.9 505,328.7 505.3,370.2 505.5,322.3 505.8,364.2 506.1,328.9 506.4,370.3 506.7,326.3 506.9,364.5 507.2,328.5 507.4,363.7 507.6,328.5 507.9,364.5 508.1,328.6 508.4,369.6 508.6,327.2 508.9,364.4 509.1,328.6 509.3,364.3 509.5,328.1 509.8,363.6 510,328.5 510.3,364.2 510.6,329.2 510.9,365.6 511.1,328.2 511.3,365.5 511.6,327 511.9,364.5 512.1,328.6 512.4,363.4 512.6,323.5 512.9,363.4 513.2,327.2 513.4,369 513.7,323.6 514,363.7 514.2,328.7 514.4,368.9 514.7,327.7 514.9,367.2 515.1,326.6 515.4,365.2 515.6,328.1 515.8,364.2 516.1,326 516.4,368.3 516.6,322.8 516.8,366.5 517,328.1 517.3,368.5 517.5,328.3 517.8,363.3 518,328.5 518.3,364.7 518.5,328.8 518.7,364.2 519,327.3 519.3,367 519.5,328.3 519.7,367.4 520,328.4 520.3,363.6 520.6,326.2 520.8,366.6 521,325.8 521.3,364.8 521.5,326.7 521.7,368.1 522,327.9 522.3,363.2 522.6,329 522.9,366.4 523.2,328.9 523.4,369.4 523.7,328.6 523.9,364.8 524.1,329.4 524.4,368.6 524.7,329.3 524.9,367.2 525.1,325.2 525.4,369 525.6,326.5 525.9,363.5 526.1,322.6 526.4,368.1 526.7,325.4 526.9,364.3 527.2,325.4 527.5,368.6 527.7,323.4 528,365.1 528.3,327.6 528.6,364.9 528.8,325.2 529.1,364 529.4,329.1 529.7,363.5 529.9,322.9 530.2,364.2 530.5,326.5 530.7,368.9 531,329.2 531.3,363.2 531.5,326 531.8,366.1 532,328.6 532.2,364.2 532.5,325 532.8,363.7 533,325.4 533.2,363.3 533.4,328.9 533.7,369.1 534,327.4 534.2,368.8 534.5,329.5 534.8,363.4 535,324.7 535.3,369.1 535.6,329.2 535.9,363.8 536.2,325.2 536.4,363.5 536.6,325.8 536.8,364.9 537.1,328.9 537.3,365.4 537.6,328.7 537.9,366.4 538.2,322.4 538.4,366.6 538.7,327.8 538.9,365.1 539.1,323.3 539.4,363.9 539.6,328.9 539.8,364 540,328.7 540.3,363.6 540.6,327.9 540.8,363.5 541.1,325.5 541.4,366.2 541.6,328.8 541.8,368.1 542.1,327.5 542.3,366.9 542.6,328.7 542.9,364.9 543.1,327.8 543.4,370.5 543.6,323 543.8,365.1 544.1,328.5 544.3,370.6 544.6,328.6 544.8,363.3 545.1,329.2 545.3,368.2 545.6,327.2 545.9,366.9 546.1,327.3 546.3,369.2 546.6,326.6 546.8,364 547.1,327.9 547.4,364.7 547.6,324.6 547.9,365.6 548.1,327.5 548.4,363.4 548.7,328.9 549,365 549.2,328 549.4,368.7 549.6,326.1 549.9,364.4 550.1,327.5 550.4,364.2 550.7,328.9 551,364.3 551.3,325.6 551.5,364.7 551.8,328.4 552,365.8 552.3,326.1 552.5,364.2 552.8,325.7 553,368.5 553.3,325.2 553.5,369.2 553.8,329.2 554,367.8 554.3,328.8 554.6,363.5 554.8,324.6 555.1,363.3 555.3,327.2 555.6,367.3 555.8,328.7 556.1,363.6 556.3,328.9 556.5,366.5 556.8,329.3 557.1,364.7 557.4,326.4 557.6,363.4 557.8,322.8 558.1,365.5 558.4,323.2 558.6,363 558.9,326.1 559.1,367.6 559.4,323.6 559.6,363.4 559.8,328.9 560.1,364.4 560.4,328 560.7,366.9 560.9,328.7 561.2,364.8 561.4,328.4 561.7,367.3 562,328.3 562.2,365.3 562.5,326 562.7,364.3 562.9,325.6 563.1,364.7 563.4,325.3 563.6,368.7 563.9,328 564.1,369.3 564.4,329 564.6,365.2 564.9,326.3 565.1,367.8 565.3,325.5 565.5,367.8 565.8,329.3 566,365.9 566.3,328.1 566.5,363.6 566.8,329.4 567.1,367.4 567.4,328.3 567.6,365.1 567.9,328.4 568.1,363.3 568.4,324.9 568.7,362.7 568.9,327.5 569.1,365.1 569.3,328.2 569.6,364.1 569.9,325.9 570.1,363.1 570.4,329.3 570.7,366.2 571,328.4 571.2,363.3 571.4,325.8 571.6,363.3 571.9,325.7 572.2,364.3 572.4,327.8 572.7,363.3 572.9,327.2 573.1,366.4 573.4,329.1 573.7,365 573.9,329.5 574.2,367.2 574.4,325.4 574.7,363.5 574.9,329.4 575.2,365.7 575.4,329.1 575.7,367.9 576,324.6 576.2,363.4 576.4,327.5 576.7,367 576.9,329 577.2,363.4 577.4,329 577.6,365.7 577.9,323.4 578.1,365.1 578.3,329.4 578.6,364 578.9,328.8 579.1,368.8 579.4,327.6 579.6,368.2 579.8,329.6 580.1,363.3 580.3,329.1 580.6,365.3 580.8,329.5 581,363.4 581.3,328.3 581.6,363.8 581.8,325.7 582.1,366.8 582.3,329.8 582.6,368.5 582.8,324.5 583.1,362.8 583.3,328.8 583.6,363.5 583.8,328.6 584.1,363.4 584.3,328.2 584.5,368.9 584.8,328.3 585,363.2 585.2,329.6 585.5,367.9 585.8,329.2 586,364.6 586.2,324.7 586.5,363.8 586.8,325.7 587,365 587.3,326.6 587.5,364.8 587.7,328.2 588,363 588.3,329.5 588.5,363.2 588.7,328.5 589,363.4 589.3,328.4 589.6,362.7 589.9,327.9 590.1,363.5 590.3,325.1 590.6,365.6 590.8,323.9 591.1,367.8 591.3,329.6 591.6,363 591.8,328.6 592,363.4 592.3,324.9 592.5,363.6 592.7,329.6 593,363.4 593.2,324.6 593.5,363 593.8,326.3 594.1,363.3 594.3,328.2 594.6,367.6 594.8,329.5 595,368.1 595.3,329.9 595.5,363.9 595.8,326.2 596.1,363 596.4,323.4 596.6,366.6 596.9,326.2 597.2,362.7 597.4,325.1 597.7,363.1 597.9,326.1 598.1,365.1 598.4,328.2 598.7,363 598.9,325.2 599.1,362.9 599.3,327.7 599.6,368.5 599.8,329.2 600.1,363.6 600.3,325.1 600.5,368.5 600.8,328.3 601,365 601.3,328 601.5,366.1 601.7,325 602,362.8 602.3,328.2 602.6,363.7 602.8,327.7 603.1,364.7 603.3,329 603.5,368.8 603.8,329.7 604,363.9 604.3,329.2 604.6,363.6 604.8,324 605.1,365.4 605.3,325.9 605.6,364.5 605.8,329.2 606.1,362.6 606.3,329.1 606.5,362.6 606.8,322.9 607,362.4 607.3,324 607.5,368.3 607.8,326.9 608,367.8 608.3,329.7 608.6,363.4 608.8,327.2 609.1,363.9 609.4,328.2 609.6,362.7 609.9,329 610.1,362.9 610.3,324.2 610.5,363 610.8,328.6 611,362.3 611.3,326.1 611.5,362.2 611.8,327 612.1,362.8 612.3,329.2 612.6,365 612.8,328.2 613.1,368.3 613.3,326.2 613.6,362.7 613.8,328.8 614.1,363.9 614.3,324.1 614.5,363.7 614.8,329 615,367 615.2,329.2 615.4,364 615.7,329.6 616,365.1 616.3,325.5 616.5,365.2 616.8,326.4 617,363.3 617.2,329.6 617.4,364.8 617.7,329.2 618,363.3 618.3,328.4 618.5,362.4 618.8,330.1 619,363.5 619.2,329.9 619.4,365.7 619.7,326.5 619.9,363.7 620.1,324.5 620.4,365.4 620.6,329.5 620.9,364.4 621.2,327.2 621.4,363.3 621.6,329.3 621.8,365.4 622.1,328.7 622.4,362.8 622.6,324.8 622.9,365.9 623.1,328.8 623.4,365.2 623.6,323.1 623.9,367.6 624.1,329.4 624.4,363.1 624.6,327.8 624.9,362.7 625.1,328.8 625.4,363 625.6,329.1 625.9,365.4 626.1,327.4 626.3,362.4 626.6,324.4 626.9,362.4 627.1,325.6 627.4,365.3 627.7,329.3 627.9,363.7 628.1,327.5 628.3,362.1 628.5,324.5 628.8,362.6 629,324.4 629.3,361.9 629.5,329.4 629.7,366.3 629.9,328.5 630.2,365.3 630.4,329.4 630.7,367.8 631,328.6 631.2,364.3 631.5,329.3 631.7,367.5 632,329.1 632.3,363 632.5,325.1 632.8,362.3 633,330 633.3,365.1 633.5,330.1 633.8,365.6 634,327.5 634.2,366.7 634.5,328.2 634.8,363 635,330.3 635.3,367.6 635.5,326.8 635.7,367.9 636,324.9 636.3,363.3 636.6,327.7 636.8,367.7 637.1,325.5 637.4,367.8 637.7,330.3 637.9,364.2 638.2,330.3 638.4,363.2 638.7,323.6 638.9,362.3 639.1,328.4 639.4,365.2 639.6,328.5 639.9,363.3 640.2,328.7 640.4,363.6 640.7,329.5 641,361.7 641.2,325.2 641.5,364 641.7,330 642,361.9 642.3,330 642.5,362 642.7,327.1 643,365 643.2,328.9 643.4,362.5 643.7,329.2 643.9,364.2 644.2,329.5 644.4,362.3 644.6,326.3 644.9,361.8 645.1,324.1 645.4,362.2 645.7,329.6 646,361.9 646.2,325.5 646.4,368.2 646.7,328 647,365 647.3,326.9 647.5,366.9 647.8,325.9 648,363 648.2,327.3 648.4,362.5 648.7,330 648.9,366.2 649.1,329.6 649.4,367.8 649.6,327.8 649.9,362 650.1,328.7 650.4,363.4 650.6,330.4 650.8,361.7 651,326.1 651.3,362.5 651.6,330.2 651.9,362.2 652.1,330.3 652.4,362.1 652.6,329.1 652.8,364.2 653.1,330.1 653.4,366.7 653.6,328.9 653.9,362.7 654.1,329.8 654.3,367.6 654.6,329.3 654.8,365.2 655,325 655.2,362.5 655.5,325.5 655.7,365.7 656,329.2 656.3,364.6 656.5,327.8 656.8,363.1 657,329.4 657.3,363.1 657.6,330.4 657.8,364.1 658,325.8 658.2,368.1 658.5,324.6 658.7,363.9 659,327.7 659.2,362.4 659.4,327.4 659.7,361.8 659.9,330.1 660.2,362.2 660.5,329.6 660.7,362.1 661,326.7" fill="none" stroke="#d97c20" stroke-width="0.72" stroke-linejoin="round"/>
<path d="M82.5 273.3V389.2H661M178.9 389.2v-6M275.3 389.2v-6M371.8 389.2v-6M468.2 389.2v-6M564.6 389.2v-6M661 389.2v-6M82.5 273.3h6M82.5 311.9h6M82.5 350.7h6" fill="none" stroke="#585858" stroke-width="1.3"/>
<text x="78.5" y="279.4" font-size="16" text-anchor="end" fill="#2a2a2a">20</text>
<text x="78.5" y="318" font-size="16" text-anchor="end" fill="#2a2a2a">10</text>
<text x="78.5" y="356.8" font-size="16" text-anchor="end" fill="#2a2a2a">0</text>
<text x="78.5" y="395.3" font-size="16" text-anchor="end" fill="#2a2a2a">-10</text>
<text x="82.1" y="408" font-size="16" text-anchor="middle" fill="#2a2a2a">0</text>
<text x="178.5" y="408" font-size="16" text-anchor="middle" fill="#2a2a2a">1</text>
<text x="274.9" y="408" font-size="16" text-anchor="middle" fill="#2a2a2a">2</text>
<text x="371.4" y="408" font-size="16" text-anchor="middle" fill="#2a2a2a">3</text>
<text x="467.8" y="408" font-size="16" text-anchor="middle" fill="#2a2a2a">4</text>
<text x="564.2" y="408" font-size="16" text-anchor="middle" fill="#2a2a2a">5</text>
<text x="660.6" y="408" font-size="16" text-anchor="middle" fill="#2a2a2a">6</text>
<text x="314" y="427.5" font-size="17.5" textLength="35.6" lengthAdjust="spacingAndGlyphs" fill="#2a2a2a">Time</text>
<text x="359.6" y="427.5" font-size="17.5" textLength="70.8" lengthAdjust="spacingAndGlyphs" fill="#2a2a2a">(Seconds)</text>
<text transform="translate(28.8 364) rotate(-90)" font-size="17.5" font-style="italic" fill="#2a2a2a">P</text>
<text transform="translate(37.8 353.2) rotate(-90)" font-size="13" fill="#2a2a2a">v</text>
<text transform="translate(28.8 336.2) rotate(-90)" font-size="17.5" textLength="37.6" lengthAdjust="spacingAndGlyphs" fill="#2a2a2a">(p.u.)</text>
<text x="217.1" y="279" font-size="17.8" textLength="44.6" lengthAdjust="spacingAndGlyphs" fill="#2a2a2a">Stable</text>
<text x="285.7" y="279" font-size="17.8" textLength="63.3" lengthAdjust="spacingAndGlyphs" fill="#2a2a2a">Unstable</text>
<path d="M209.3 283.4H340.4" stroke="#2a2a2a" stroke-width="1.2" fill="none"/>
<path d="M206.3 283.4l6.8 -3.1v6.2z" fill="#000"/>
<path d="M343.4 283.4l-6.8 -3.1v6.2z" fill="#000"/>
<path d="M275.1 268.9V389.2" stroke="#000" stroke-width="1.25" stroke-dasharray="5.3 2.9" fill="none"/>
<text x="208.4" y="323.3" font-size="18" font-style="italic" textLength="11" lengthAdjust="spacingAndGlyphs" fill="#2a2a2a">P</text>
<text x="219.8" y="326.3" font-size="12.5" fill="#2a2a2a">1</text>
<path d="M227.3 318.8L266.2 339.8" stroke="#000" stroke-width="1" fill="none"/>
<path d="M268.8 341.2L260.5 340.1L263.4 334.9z" fill="#000"/>
<text x="482.3" y="278.9" font-size="18" font-style="italic" textLength="10.8" lengthAdjust="spacingAndGlyphs" fill="#2a2a2a">P</text>
<text x="493.1" y="281.7" font-size="12.5" fill="#2a2a2a">1</text>
<text x="499.7" y="278.9" font-size="18" fill="#2a2a2a">:</text>
<text x="508.9" y="278.9" font-size="18" font-style="italic" textLength="11.3" lengthAdjust="spacingAndGlyphs" fill="#2a2a2a">C</text>
<text x="520.5" y="281.7" font-size="12.5" fill="#2a2a2a">f</text>
<text x="530.1" y="278.9" font-size="18" textLength="9.6" lengthAdjust="spacingAndGlyphs" fill="#2a2a2a">=</text>
<text x="544.7" y="278.9" font-size="18" textLength="49.6" lengthAdjust="spacingAndGlyphs" fill="#2a2a2a">0.006F</text>
<text x="596.3" y="276" font-size="18" textLength="14.5" lengthAdjust="spacingAndGlyphs" fill="#2a2a2a">→</text>
<path d="M596.3 272.5H606.3" stroke="#111" stroke-width="1.1" fill="none"/>
<path d="M611.1 272.5l-6.2 -2.4v4.8z" fill="#111"/>
<text x="613.3" y="278.9" font-size="18" textLength="40" lengthAdjust="spacingAndGlyphs" fill="#2a2a2a">0.01F</text>
<text x="129.4" y="468.6" font-size="18.2" textLength="426" lengthAdjust="spacingAndGlyphs" fill="#2a2a2a">(b) The output active power of the PMSG based wind farm.</text>
<path d="M82 506V632.2H663.5M178.9 632.2v-6M275.8 632.2v-6M372.8 632.2v-6M469.7 632.2v-6M566.6 632.2v-6M663.5 632.2v-6M82 523.9h6M82 569.3h6M82 613.8h6" fill="none" stroke="#585858" stroke-width="1.3"/>
<polyline points="82,576.3 82.2,577.1 82.4,573.3 82.6,567.2 82.8,562.3 83,561.5 83.2,565.3 83.4,571.4 83.6,576.3 83.8,577.1 84,573.3 84.2,567.2 84.4,562.3 84.6,561.5 84.8,565.3 85,571.4 85.2,576.3 85.4,577.1 85.6,573.3 85.8,567.2 86,562.3 86.2,561.5 86.4,565.3 86.6,571.4 86.8,576.3 87,577.1 87.2,573.3 87.5,567.2 87.7,562.3 87.9,561.5 88.1,565.3 88.3,571.4 88.5,576.3 88.7,577.1 88.9,573.3 89.1,567.2 89.3,562.3 89.5,561.5 89.7,565.3 89.9,571.4 90.1,576.3 90.3,577.1 90.5,573.3 90.7,567.2 90.9,562.3 91.1,561.5 91.3,565.3 91.5,571.4 91.7,576.3 91.9,577.1 92.1,573.3 92.3,567.2 92.5,562.3 92.7,561.5 92.9,565.3 93.1,571.4 93.3,576.3 93.5,577.1 93.7,573.3 93.9,567.2 94.1,562.3 94.3,561.5 94.5,565.3 94.7,571.4 94.9,576.3 95.1,577.1 95.3,573.3 95.5,567.2 95.7,562.3 95.9,561.5 96.1,565.3 96.3,571.4 96.5,576.3 96.7,577.1 96.9,573.3 97.1,567.2 97.3,562.3 97.5,561.5 97.7,565.3 98,571.4 98.2,576.3 98.4,577.1 98.6,573.3 98.8,567.2 99,562.3 99.2,561.5 99.4,565.3 99.6,571.4 99.8,576.3 100,577.1 100.2,573.3 100.4,567.2 100.6,562.3 100.8,561.5 101,565.3 101.2,571.4 101.4,576.3 101.6,577.1 101.8,573.3 102,567.2 102.2,562.3 102.4,561.5 102.6,565.3 102.8,571.4 103,576.3 103.2,577.1 103.4,573.3 103.6,567.2 103.8,562.3 104,561.5 104.2,565.3 104.4,571.4 104.6,576.3 104.8,577.1 105,573.3 105.2,567.2 105.4,562.3 105.6,561.5 105.8,565.3 106,571.4 106.2,576.3 106.4,577.1 106.6,573.3 106.8,567.2 107,562.3 107.2,561.5 107.4,565.3 107.6,571.4 107.8,576.3 108,577.1 108.2,573.3 108.5,567.2 108.7,562.3 108.9,561.5 109.1,565.3 109.3,571.4 109.5,576.3 109.7,577.1 109.9,573.3 110.1,567.2 110.3,562.3 110.5,561.5 110.7,565.3 110.9,571.4 111.1,576.3 111.3,577.1 111.5,573.3 111.7,567.2 111.9,562.3 112.1,561.5 112.3,565.3 112.5,571.4 112.7,576.3 112.9,577.1 113.1,573.3 113.3,567.2 113.5,562.3 113.7,561.5 113.9,565.3 114.1,571.4 114.3,576.3 114.5,577.1 114.7,573.3 114.9,567.2 115.1,562.3 115.3,561.5 115.5,565.3 115.7,571.4 115.9,576.3 116.1,577.1 116.3,573.3 116.5,567.2 116.7,562.3 116.9,561.5 117.1,565.3 117.3,571.4 117.5,576.3 117.7,577.1 117.9,573.3 118.1,567.2 118.3,562.3 118.5,561.5 118.7,565.3 118.9,571.4 119.2,576.3 119.4,577.1 119.6,573.3 119.8,567.2 120,562.3 120.2,561.5 120.4,565.3 120.6,571.4 120.8,576.3 121,577.1 121.2,573.3 121.4,567.2 121.6,562.3 121.8,561.5 122,565.3 122.2,571.4 122.4,576.3 122.6,577.1 122.8,573.3 123,567.2 123.2,562.3 123.4,561.5 123.6,565.3 123.8,571.4 124,576.3 124.2,577.1 124.4,573.3 124.6,567.2 124.8,562.3 125,561.5 125.2,565.3 125.4,571.4 125.6,576.3 125.8,577.1 126,573.3 126.2,567.2 126.4,562.3 126.6,561.5 126.8,565.3 127,571.4 127.2,576.3 127.4,577.1 127.6,573.3 127.8,567.2 128,562.3 128.2,561.5 128.4,565.3 128.6,571.4 128.8,576.3 129,577.1 129.2,573.3 129.4,567.2 129.7,562.3 129.9,561.5 130.1,565.3 130.3,571.4 130.5,576.3 130.7,577.1 130.9,573.3 131.1,567.2 131.3,562.3 131.5,561.5 131.7,565.3 131.9,571.4 132.1,576.3 132.3,577.1 132.5,573.3 132.7,567.2 132.9,562.3 133.1,561.5 133.3,565.3 133.5,571.4 133.7,576.3 133.9,577.1 134.1,573.3 134.3,567.2 134.5,562.3 134.7,561.5 134.9,565.3 135.1,571.4 135.3,576.3 135.5,577.1 135.7,573.3 135.9,567.2 136.1,562.3 136.3,561.5 136.5,565.3 136.7,571.4 136.9,576.3 137.1,577.1 137.3,573.3 137.5,567.2 137.7,562.3 137.9,561.5 138.1,565.3 138.3,571.4 138.5,576.3 138.7,577.1 138.9,573.3 139.1,567.2 139.3,562.3 139.5,561.5 139.7,565.3 139.9,571.4 140.2,576.3 140.4,577.1 140.6,573.3 140.8,567.2 141,562.3 141.2,561.5 141.4,565.3 141.6,571.4 141.8,576.3 142,577.1 142.2,573.3 142.4,567.2 142.6,562.3 142.8,561.5 143,565.3 143.2,571.4 143.4,576.3 143.6,577.1 143.8,573.3 144,567.2 144.2,562.3 144.4,561.5 144.6,565.3 144.8,571.4 145,576.3 145.2,577.1 145.4,573.3 145.6,567.2 145.8,562.3 146,561.5 146.2,565.3 146.4,571.4 146.6,576.3 146.8,577.1 147,573.3 147.2,567.2 147.4,562.3 147.6,561.5 147.8,565.3 148,571.4 148.2,576.3 148.4,577.1 148.6,573.3 148.8,567.2 149,562.3 149.2,561.5 149.4,565.3 149.6,571.4 149.8,576.3 150,577.1 150.2,573.3 150.4,567.2 150.6,562.3 150.9,561.5 151.1,565.3 151.3,571.4 151.5,576.3 151.7,577.1 151.9,573.3 152.1,567.2 152.3,562.3 152.5,561.5 152.7,565.3 152.9,571.4 153.1,576.3 153.3,577.1 153.5,573.3 153.7,567.2 153.9,562.3 154.1,561.5 154.3,565.3 154.5,571.4 154.7,576.3 154.9,577.1 155.1,573.3 155.3,567.2 155.5,562.3 155.7,561.5 155.9,565.3 156.1,571.4 156.3,576.3 156.5,577.1 156.7,573.3 156.9,567.2 157.1,562.3 157.3,561.5 157.5,565.3 157.7,571.4 157.9,576.3 158.1,577.1 158.3,573.3 158.5,567.2 158.7,562.3 158.9,561.5 159.1,565.3 159.3,571.4 159.5,576.3 159.7,577.1 159.9,573.3 160.1,567.2 160.3,562.3 160.5,561.5 160.7,565.3 160.9,571.4 161.1,576.3 161.4,577.1 161.6,573.3 161.8,567.2 162,562.3 162.2,561.5 162.4,565.3 162.6,571.4 162.8,576.3 163,577.1 163.2,573.3 163.4,567.2 163.6,562.3 163.8,561.5 164,565.3 164.2,571.4 164.4,576.3 164.6,577.1 164.8,573.3 165,567.2 165.2,562.3 165.4,561.5 165.6,565.3 165.8,571.4 166,576.3 166.2,577.1 166.4,573.3 166.6,567.2 166.8,562.3 167,561.5 167.2,565.3 167.4,571.4 167.6,576.3 167.8,577.1 168,573.3 168.2,567.2 168.4,562.3 168.6,561.5 168.8,565.3 169,571.4 169.2,576.3 169.4,577.1 169.6,573.3 169.8,567.2 170,562.3 170.2,561.5 170.4,565.3 170.6,571.4 170.8,576.3 171,577.1 171.2,573.3 171.4,567.2 171.6,562.3 171.8,561.5 172.1,565.3 172.3,571.4 172.5,576.3 172.7,577.1 172.9,573.3 173.1,567.2 173.3,562.3 173.5,561.5 173.7,565.3 173.9,571.4 174.1,576.3 174.3,577.1 174.5,573.3 174.7,567.2 174.9,562.3 175.1,561.5 175.3,565.3 175.5,571.4 175.7,576.3 175.9,577.1 176.1,573.3 176.3,567.2 176.5,562.3 176.7,561.5 176.9,565.3 177.1,571.4 177.3,576.3 177.5,577.1 177.7,573.3 177.9,567.2 178.1,562.3 178.3,561.5 178.5,565.3 178.7,571.4 178.9,576.3 179.1,577.1 179.3,573.3 179.5,567.2 179.7,562.3 179.9,561.5 180.1,565.3 180.3,571.4 180.5,576.3 180.7,577.1 180.9,573.3 181.1,567.2 181.3,562.3 181.5,561.5 181.7,565.3 181.9,571.4 182.1,576.3 182.3,577.1 182.6,573.3 182.8,567.2 183,562.3 183.2,561.5 183.4,565.3 183.6,571.4 183.8,576.3 184,577.1 184.2,573.3 184.4,567.2 184.6,562.3 184.8,561.5 185,565.3 185.2,571.4 185.4,576.3 185.6,577.1 185.8,573.3 186,567.2 186.2,562.3 186.4,561.5 186.6,565.3 186.8,571.4 187,576.3 187.2,577.1 187.4,573.3 187.6,567.2 187.8,562.3 188,561.5 188.2,565.3 188.4,571.4 188.6,576.3 188.8,577.1 189,573.3 189.2,567.2 189.4,562.3 189.6,561.5 189.8,565.3 190,571.4 190.2,576.3 190.4,577.1 190.6,573.3 190.8,567.2 191,562.3 191.2,561.5 191.4,565.3 191.6,571.4 191.8,576.3 192,577.1 192.2,573.3 192.4,567.2 192.6,562.3 192.8,561.5 193.1,565.3 193.3,571.4 193.5,576.3 193.7,577.1 193.9,573.3 194.1,567.2 194.3,562.3 194.5,561.5 194.7,565.3 194.9,571.4 195.1,576.3 195.3,577.1 195.5,573.3 195.7,567.2 195.9,562.3 196.1,561.5 196.3,565.3 196.5,571.4 196.7,576.3 196.9,577.1 197.1,573.3 197.3,567.2 197.5,562.3 197.7,561.5 197.9,565.3 198.1,571.4 198.3,576.3 198.5,577.1 198.7,573.3 198.9,567.2 199.1,562.3 199.3,561.5 199.5,565.3 199.7,571.4 199.9,576.3 200.1,577.1 200.3,573.3 200.5,567.2 200.7,562.3 200.9,561.5 201.1,565.3 201.3,571.4 201.5,576.3 201.7,577.1 201.9,573.3 202.1,567.2 202.3,562.3 202.5,561.5 202.7,565.3 202.9,571.4 203.1,576.3 203.3,577.1 203.5,573.3 203.8,567.2 204,562.3 204.2,561.5 204.4,565.3 204.6,571.4 204.8,576.3 205,577.1 205.2,573.3 205.4,567.2 205.6,562.3 205.8,561.5 206,565.3 206.2,571.4 206.4,576.3 206.6,577.1 206.8,573.3 207,567.2 207.2,562.3 207.4,561.5 207.6,565.3 207.8,571.4 208,576.3 208.2,577.1 208.4,573.3 208.6,567.2 208.8,562.3 209,561.5 209.2,565.3 209.4,571.4 209.6,576.3 209.8,577.1 210,573.3 210.2,567.2 210.4,562.3 210.6,561.5 210.8,565.3 211,571.4 211.2,576.3 211.4,577.1 211.6,573.3 211.8,567.2 212,562.3 212.2,561.5 212.4,565.3 212.6,571.4 212.8,576.3 213,577.1 213.2,573.3 213.4,567.2 213.6,562.3 213.8,561.5 214,565.3 214.3,571.4 214.5,576.3 214.7,577.1 214.9,573.3 215.1,567.2 215.3,562.3 215.5,561.5 215.7,565.3 215.9,571.4 216.1,576.3 216.3,577.1 216.5,573.3 216.7,567.2 216.9,562.3 217.1,561.5 217.3,565.3 217.5,571.4 217.7,576.3 217.9,577.1 218.1,573.3 218.3,567.2 218.5,562.3 218.7,561.5 218.9,565.3 219.1,571.4 219.3,576.3 219.5,577.1 219.7,573.3 219.9,567.2 220.1,562.3 220.3,561.5 220.5,565.3 220.7,571.4 220.9,576.3 221.1,577.1 221.3,573.3 221.5,567.2 221.7,562.3 221.9,561.5 222.1,565.3 222.3,571.4 222.5,576.3 222.7,577.1 222.9,573.3 223.1,567.2 223.3,562.3 223.5,561.5 223.7,565.3 223.9,571.4 224.1,576.3 224.3,577.1 224.5,573.3 224.8,567.2 225,562.3 225.2,561.5 225.4,565.3 225.6,571.4 225.8,576.3 226,577.1 226.2,573.3 226.4,567.2 226.6,562.3 226.8,561.5 227,565.3 227.2,571.4 227.4,576.3 227.6,577.1 227.8,573.3 228,567.2 228.2,562.3 228.4,561.5 228.6,565.3 228.8,571.4 229,576.3 229.2,577.1 229.4,573.3 229.6,567.2 229.8,562.3 230,561.5 230.2,565.3 230.4,571.4 230.6,576.3 230.8,577.1 231,573.3 231.2,567.2 231.4,562.3 231.6,561.5 231.8,565.3 232,571.4 232.2,576.3 232.4,577.1 232.6,573.3 232.8,567.2 233,562.3 233.2,561.5 233.4,565.3 233.6,571.4 233.8,576.3 234,577.1 234.2,573.3 234.4,567.2 234.6,562.3 234.8,561.5 235,565.3 235.2,571.4 235.5,576.3 235.7,577.1 235.9,573.3 236.1,567.2 236.3,562.3 236.5,561.5 236.7,565.3 236.9,571.4 237.1,576.3 237.3,577.1 237.5,573.3 237.7,567.2 237.9,562.3 238.1,561.5 238.3,565.3 238.5,571.4 238.7,576.3 238.9,577.1 239.1,573.3 239.3,567.2 239.5,562.3 239.7,561.5 239.9,565.3 240.1,571.4 240.3,576.3 240.5,577.1 240.7,573.3 240.9,567.2 241.1,562.3 241.3,561.5 241.5,565.3 241.7,571.4 241.9,576.3 242.1,577.1 242.3,573.3 242.5,567.2 242.7,562.3 242.9,561.5 243.1,565.3 243.3,571.4 243.5,576.3 243.7,577.1 243.9,573.3 244.1,567.2 244.3,562.3 244.5,561.5 244.7,565.3 244.9,571.4 245.1,576.3 245.3,577.1 245.5,573.3 245.7,567.2 246,562.3 246.2,561.5 246.4,565.3 246.6,571.4 246.8,576.3 247,577.1 247.2,573.3 247.4,567.2 247.6,562.3 247.8,561.5 248,565.3 248.2,571.4 248.4,576.3 248.6,577.1 248.8,573.3 249,567.2 249.2,562.3 249.4,561.5 249.6,565.3 249.8,571.4 250,576.3 250.2,577.1 250.4,573.3 250.6,567.2 250.8,562.3 251,561.5 251.2,565.3 251.4,571.4 251.6,576.3 251.8,577.1 252,573.3 252.2,567.2 252.4,562.3 252.6,561.5 252.8,565.3 253,571.4 253.2,576.3 253.4,577.1 253.6,573.3 253.8,567.2 254,562.3 254.2,561.5 254.4,565.3 254.6,571.4 254.8,576.3 255,577.1 255.2,573.3 255.4,567.2 255.6,562.3 255.8,561.5 256,565.3 256.2,571.4 256.5,576.3 256.7,577.1 256.9,573.3 257.1,567.2 257.3,562.3 257.5,561.5 257.7,565.3 257.9,571.4 258.1,576.3 258.3,577.1 258.5,573.3 258.7,567.2 258.9,562.3 259.1,561.5 259.3,565.3 259.5,571.4 259.7,576.3 259.9,577.1 260.1,573.3 260.3,567.2 260.5,562.3 260.7,561.5 260.9,565.3 261.1,571.4 261.3,576.3 261.5,577.1 261.7,573.3 261.9,567.2 262.1,562.3 262.3,561.5 262.5,565.3 262.7,571.4 262.9,576.3 263.1,577.1 263.3,573.3 263.5,567.2 263.7,562.3 263.9,561.5 264.1,565.3 264.3,571.4 264.5,576.3 264.7,577.1 264.9,573.3 265.1,567.2 265.3,562.3 265.5,561.5 265.7,565.3 265.9,571.4 266.1,576.3 266.3,577.1 266.5,573.3 266.7,567.2 266.9,562.3 267.2,561.5 267.4,565.3 267.6,571.4 267.8,576.3 268,577.1 268.2,573.3 268.4,567.2 268.6,562.3 268.8,561.5 269,565.3 269.2,571.4 269.4,576.3 269.6,577.1 269.8,573.3 270,567.2 270.2,562.3 270.4,561.5 270.6,565.3 270.8,571.4 271,576.3 271.2,577.1 271.4,573.3 271.6,567.2 271.8,562.3 272,561.5 272.2,565.3 272.4,571.4 272.6,576.3 272.8,577.1 273,573.3 273.2,567.2 273.4,562.3 273.6,561.5 273.8,565.3 274,571.4 274.2,576.3 274.4,577.1 274.6,573.3 274.8,567.2 275,562.3 275.2,561.5 275.4,565.3 275.6,571.4 275.8,576.3" fill="none" stroke="#f0c030" stroke-width="0.8" stroke-linejoin="round"/>
<polyline points="82,562.3 82.2,567.2 82.4,573.3 82.6,577.1 82.8,576.3 83,571.4 83.2,565.3 83.4,561.5 83.6,562.3 83.8,567.2 84,573.3 84.2,577.1 84.4,576.3 84.6,571.4 84.8,565.3 85,561.5 85.2,562.3 85.4,567.2 85.6,573.3 85.8,577.1 86,576.3 86.2,571.4 86.4,565.3 86.6,561.5 86.8,562.3 87,567.2 87.2,573.3 87.5,577.1 87.7,576.3 87.9,571.4 88.1,565.3 88.3,561.5 88.5,562.3 88.7,567.2 88.9,573.3 89.1,577.1 89.3,576.3 89.5,571.4 89.7,565.3 89.9,561.5 90.1,562.3 90.3,567.2 90.5,573.3 90.7,577.1 90.9,576.3 91.1,571.4 91.3,565.3 91.5,561.5 91.7,562.3 91.9,567.2 92.1,573.3 92.3,577.1 92.5,576.3 92.7,571.4 92.9,565.3 93.1,561.5 93.3,562.3 93.5,567.2 93.7,573.3 93.9,577.1 94.1,576.3 94.3,571.4 94.5,565.3 94.7,561.5 94.9,562.3 95.1,567.2 95.3,573.3 95.5,577.1 95.7,576.3 95.9,571.4 96.1,565.3 96.3,561.5 96.5,562.3 96.7,567.2 96.9,573.3 97.1,577.1 97.3,576.3 97.5,571.4 97.7,565.3 98,561.5 98.2,562.3 98.4,567.2 98.6,573.3 98.8,577.1 99,576.3 99.2,571.4 99.4,565.3 99.6,561.5 99.8,562.3 100,567.2 100.2,573.3 100.4,577.1 100.6,576.3 100.8,571.4 101,565.3 101.2,561.5 101.4,562.3 101.6,567.2 101.8,573.3 102,577.1 102.2,576.3 102.4,571.4 102.6,565.3 102.8,561.5 103,562.3 103.2,567.2 103.4,573.3 103.6,577.1 103.8,576.3 104,571.4 104.2,565.3 104.4,561.5 104.6,562.3 104.8,567.2 105,573.3 105.2,577.1 105.4,576.3 105.6,571.4 105.8,565.3 106,561.5 106.2,562.3 106.4,567.2 106.6,573.3 106.8,577.1 107,576.3 107.2,571.4 107.4,565.3 107.6,561.5 107.8,562.3 108,567.2 108.2,573.3 108.5,577.1 108.7,576.3 108.9,571.4 109.1,565.3 109.3,561.5 109.5,562.3 109.7,567.2 109.9,573.3 110.1,577.1 110.3,576.3 110.5,571.4 110.7,565.3 110.9,561.5 111.1,562.3 111.3,567.2 111.5,573.3 111.7,577.1 111.9,576.3 112.1,571.4 112.3,565.3 112.5,561.5 112.7,562.3 112.9,567.2 113.1,573.3 113.3,577.1 113.5,576.3 113.7,571.4 113.9,565.3 114.1,561.5 114.3,562.3 114.5,567.2 114.7,573.3 114.9,577.1 115.1,576.3 115.3,571.4 115.5,565.3 115.7,561.5 115.9,562.3 116.1,567.2 116.3,573.3 116.5,577.1 116.7,576.3 116.9,571.4 117.1,565.3 117.3,561.5 117.5,562.3 117.7,567.2 117.9,573.3 118.1,577.1 118.3,576.3 118.5,571.4 118.7,565.3 118.9,561.5 119.2,562.3 119.4,567.2 119.6,573.3 119.8,577.1 120,576.3 120.2,571.4 120.4,565.3 120.6,561.5 120.8,562.3 121,567.2 121.2,573.3 121.4,577.1 121.6,576.3 121.8,571.4 122,565.3 122.2,561.5 122.4,562.3 122.6,567.2 122.8,573.3 123,577.1 123.2,576.3 123.4,571.4 123.6,565.3 123.8,561.5 124,562.3 124.2,567.2 124.4,573.3 124.6,577.1 124.8,576.3 125,571.4 125.2,565.3 125.4,561.5 125.6,562.3 125.8,567.2 126,573.3 126.2,577.1 126.4,576.3 126.6,571.4 126.8,565.3 127,561.5 127.2,562.3 127.4,567.2 127.6,573.3 127.8,577.1 128,576.3 128.2,571.4 128.4,565.3 128.6,561.5 128.8,562.3 129,567.2 129.2,573.3 129.4,577.1 129.7,576.3 129.9,571.4 130.1,565.3 130.3,561.5 130.5,562.3 130.7,567.2 130.9,573.3 131.1,577.1 131.3,576.3 131.5,571.4 131.7,565.3 131.9,561.5 132.1,562.3 132.3,567.2 132.5,573.3 132.7,577.1 132.9,576.3 133.1,571.4 133.3,565.3 133.5,561.5 133.7,562.3 133.9,567.2 134.1,573.3 134.3,577.1 134.5,576.3 134.7,571.4 134.9,565.3 135.1,561.5 135.3,562.3 135.5,567.2 135.7,573.3 135.9,577.1 136.1,576.3 136.3,571.4 136.5,565.3 136.7,561.5 136.9,562.3 137.1,567.2 137.3,573.3 137.5,577.1 137.7,576.3 137.9,571.4 138.1,565.3 138.3,561.5 138.5,562.3 138.7,567.2 138.9,573.3 139.1,577.1 139.3,576.3 139.5,571.4 139.7,565.3 139.9,561.5 140.2,562.3 140.4,567.2 140.6,573.3 140.8,577.1 141,576.3 141.2,571.4 141.4,565.3 141.6,561.5 141.8,562.3 142,567.2 142.2,573.3 142.4,577.1 142.6,576.3 142.8,571.4 143,565.3 143.2,561.5 143.4,562.3 143.6,567.2 143.8,573.3 144,577.1 144.2,576.3 144.4,571.4 144.6,565.3 144.8,561.5 145,562.3 145.2,567.2 145.4,573.3 145.6,577.1 145.8,576.3 146,571.4 146.2,565.3 146.4,561.5 146.6,562.3 146.8,567.2 147,573.3 147.2,577.1 147.4,576.3 147.6,571.4 147.8,565.3 148,561.5 148.2,562.3 148.4,567.2 148.6,573.3 148.8,577.1 149,576.3 149.2,571.4 149.4,565.3 149.6,561.5 149.8,562.3 150,567.2 150.2,573.3 150.4,577.1 150.6,576.3 150.9,571.4 151.1,565.3 151.3,561.5 151.5,562.3 151.7,567.2 151.9,573.3 152.1,577.1 152.3,576.3 152.5,571.4 152.7,565.3 152.9,561.5 153.1,562.3 153.3,567.2 153.5,573.3 153.7,577.1 153.9,576.3 154.1,571.4 154.3,565.3 154.5,561.5 154.7,562.3 154.9,567.2 155.1,573.3 155.3,577.1 155.5,576.3 155.7,571.4 155.9,565.3 156.1,561.5 156.3,562.3 156.5,567.2 156.7,573.3 156.9,577.1 157.1,576.3 157.3,571.4 157.5,565.3 157.7,561.5 157.9,562.3 158.1,567.2 158.3,573.3 158.5,577.1 158.7,576.3 158.9,571.4 159.1,565.3 159.3,561.5 159.5,562.3 159.7,567.2 159.9,573.3 160.1,577.1 160.3,576.3 160.5,571.4 160.7,565.3 160.9,561.5 161.1,562.3 161.4,567.2 161.6,573.3 161.8,577.1 162,576.3 162.2,571.4 162.4,565.3 162.6,561.5 162.8,562.3 163,567.2 163.2,573.3 163.4,577.1 163.6,576.3 163.8,571.4 164,565.3 164.2,561.5 164.4,562.3 164.6,567.2 164.8,573.3 165,577.1 165.2,576.3 165.4,571.4 165.6,565.3 165.8,561.5 166,562.3 166.2,567.2 166.4,573.3 166.6,577.1 166.8,576.3 167,571.4 167.2,565.3 167.4,561.5 167.6,562.3 167.8,567.2 168,573.3 168.2,577.1 168.4,576.3 168.6,571.4 168.8,565.3 169,561.5 169.2,562.3 169.4,567.2 169.6,573.3 169.8,577.1 170,576.3 170.2,571.4 170.4,565.3 170.6,561.5 170.8,562.3 171,567.2 171.2,573.3 171.4,577.1 171.6,576.3 171.8,571.4 172.1,565.3 172.3,561.5 172.5,562.3 172.7,567.2 172.9,573.3 173.1,577.1 173.3,576.3 173.5,571.4 173.7,565.3 173.9,561.5 174.1,562.3 174.3,567.2 174.5,573.3 174.7,577.1 174.9,576.3 175.1,571.4 175.3,565.3 175.5,561.5 175.7,562.3 175.9,567.2 176.1,573.3 176.3,577.1 176.5,576.3 176.7,571.4 176.9,565.3 177.1,561.5 177.3,562.3 177.5,567.2 177.7,573.3 177.9,577.1 178.1,576.3 178.3,571.4 178.5,565.3 178.7,561.5 178.9,562.3 179.1,567.2 179.3,573.3 179.5,577.1 179.7,576.3 179.9,571.4 180.1,565.3 180.3,561.5 180.5,562.3 180.7,567.2 180.9,573.3 181.1,577.1 181.3,576.3 181.5,571.4 181.7,565.3 181.9,561.5 182.1,562.3 182.3,567.2 182.6,573.3 182.8,577.1 183,576.3 183.2,571.4 183.4,565.3 183.6,561.5 183.8,562.3 184,567.2 184.2,573.3 184.4,577.1 184.6,576.3 184.8,571.4 185,565.3 185.2,561.5 185.4,562.3 185.6,567.2 185.8,573.3 186,577.1 186.2,576.3 186.4,571.4 186.6,565.3 186.8,561.5 187,562.3 187.2,567.2 187.4,573.3 187.6,577.1 187.8,576.3 188,571.4 188.2,565.3 188.4,561.5 188.6,562.3 188.8,567.2 189,573.3 189.2,577.1 189.4,576.3 189.6,571.4 189.8,565.3 190,561.5 190.2,562.3 190.4,567.2 190.6,573.3 190.8,577.1 191,576.3 191.2,571.4 191.4,565.3 191.6,561.5 191.8,562.3 192,567.2 192.2,573.3 192.4,577.1 192.6,576.3 192.8,571.4 193.1,565.3 193.3,561.5 193.5,562.3 193.7,567.2 193.9,573.3 194.1,577.1 194.3,576.3 194.5,571.4 194.7,565.3 194.9,561.5 195.1,562.3 195.3,567.2 195.5,573.3 195.7,577.1 195.9,576.3 196.1,571.4 196.3,565.3 196.5,561.5 196.7,562.3 196.9,567.2 197.1,573.3 197.3,577.1 197.5,576.3 197.7,571.4 197.9,565.3 198.1,561.5 198.3,562.3 198.5,567.2 198.7,573.3 198.9,577.1 199.1,576.3 199.3,571.4 199.5,565.3 199.7,561.5 199.9,562.3 200.1,567.2 200.3,573.3 200.5,577.1 200.7,576.3 200.9,571.4 201.1,565.3 201.3,561.5 201.5,562.3 201.7,567.2 201.9,573.3 202.1,577.1 202.3,576.3 202.5,571.4 202.7,565.3 202.9,561.5 203.1,562.3 203.3,567.2 203.5,573.3 203.8,577.1 204,576.3 204.2,571.4 204.4,565.3 204.6,561.5 204.8,562.3 205,567.2 205.2,573.3 205.4,577.1 205.6,576.3 205.8,571.4 206,565.3 206.2,561.5 206.4,562.3 206.6,567.2 206.8,573.3 207,577.1 207.2,576.3 207.4,571.4 207.6,565.3 207.8,561.5 208,562.3 208.2,567.2 208.4,573.3 208.6,577.1 208.8,576.3 209,571.4 209.2,565.3 209.4,561.5 209.6,562.3 209.8,567.2 210,573.3 210.2,577.1 210.4,576.3 210.6,571.4 210.8,565.3 211,561.5 211.2,562.3 211.4,567.2 211.6,573.3 211.8,577.1 212,576.3 212.2,571.4 212.4,565.3 212.6,561.5 212.8,562.3 213,567.2 213.2,573.3 213.4,577.1 213.6,576.3 213.8,571.4 214,565.3 214.3,561.5 214.5,562.3 214.7,567.2 214.9,573.3 215.1,577.1 215.3,576.3 215.5,571.4 215.7,565.3 215.9,561.5 216.1,562.3 216.3,567.2 216.5,573.3 216.7,577.1 216.9,576.3 217.1,571.4 217.3,565.3 217.5,561.5 217.7,562.3 217.9,567.2 218.1,573.3 218.3,577.1 218.5,576.3 218.7,571.4 218.9,565.3 219.1,561.5 219.3,562.3 219.5,567.2 219.7,573.3 219.9,577.1 220.1,576.3 220.3,571.4 220.5,565.3 220.7,561.5 220.9,562.3 221.1,567.2 221.3,573.3 221.5,577.1 221.7,576.3 221.9,571.4 222.1,565.3 222.3,561.5 222.5,562.3 222.7,567.2 222.9,573.3 223.1,577.1 223.3,576.3 223.5,571.4 223.7,565.3 223.9,561.5 224.1,562.3 224.3,567.2 224.5,573.3 224.8,577.1 225,576.3 225.2,571.4 225.4,565.3 225.6,561.5 225.8,562.3 226,567.2 226.2,573.3 226.4,577.1 226.6,576.3 226.8,571.4 227,565.3 227.2,561.5 227.4,562.3 227.6,567.2 227.8,573.3 228,577.1 228.2,576.3 228.4,571.4 228.6,565.3 228.8,561.5 229,562.3 229.2,567.2 229.4,573.3 229.6,577.1 229.8,576.3 230,571.4 230.2,565.3 230.4,561.5 230.6,562.3 230.8,567.2 231,573.3 231.2,577.1 231.4,576.3 231.6,571.4 231.8,565.3 232,561.5 232.2,562.3 232.4,567.2 232.6,573.3 232.8,577.1 233,576.3 233.2,571.4 233.4,565.3 233.6,561.5 233.8,562.3 234,567.2 234.2,573.3 234.4,577.1 234.6,576.3 234.8,571.4 235,565.3 235.2,561.5 235.5,562.3 235.7,567.2 235.9,573.3 236.1,577.1 236.3,576.3 236.5,571.4 236.7,565.3 236.9,561.5 237.1,562.3 237.3,567.2 237.5,573.3 237.7,577.1 237.9,576.3 238.1,571.4 238.3,565.3 238.5,561.5 238.7,562.3 238.9,567.2 239.1,573.3 239.3,577.1 239.5,576.3 239.7,571.4 239.9,565.3 240.1,561.5 240.3,562.3 240.5,567.2 240.7,573.3 240.9,577.1 241.1,576.3 241.3,571.4 241.5,565.3 241.7,561.5 241.9,562.3 242.1,567.2 242.3,573.3 242.5,577.1 242.7,576.3 242.9,571.4 243.1,565.3 243.3,561.5 243.5,562.3 243.7,567.2 243.9,573.3 244.1,577.1 244.3,576.3 244.5,571.4 244.7,565.3 244.9,561.5 245.1,562.3 245.3,567.2 245.5,573.3 245.7,577.1 246,576.3 246.2,571.4 246.4,565.3 246.6,561.5 246.8,562.3 247,567.2 247.2,573.3 247.4,577.1 247.6,576.3 247.8,571.4 248,565.3 248.2,561.5 248.4,562.3 248.6,567.2 248.8,573.3 249,577.1 249.2,576.3 249.4,571.4 249.6,565.3 249.8,561.5 250,562.3 250.2,567.2 250.4,573.3 250.6,577.1 250.8,576.3 251,571.4 251.2,565.3 251.4,561.5 251.6,562.3 251.8,567.2 252,573.3 252.2,577.1 252.4,576.3 252.6,571.4 252.8,565.3 253,561.5 253.2,562.3 253.4,567.2 253.6,573.3 253.8,577.1 254,576.3 254.2,571.4 254.4,565.3 254.6,561.5 254.8,562.3 255,567.2 255.2,573.3 255.4,577.1 255.6,576.3 255.8,571.4 256,565.3 256.2,561.5 256.5,562.3 256.7,567.2 256.9,573.3 257.1,577.1 257.3,576.3 257.5,571.4 257.7,565.3 257.9,561.5 258.1,562.3 258.3,567.2 258.5,573.3 258.7,577.1 258.9,576.3 259.1,571.4 259.3,565.3 259.5,561.5 259.7,562.3 259.9,567.2 260.1,573.3 260.3,577.1 260.5,576.3 260.7,571.4 260.9,565.3 261.1,561.5 261.3,562.3 261.5,567.2 261.7,573.3 261.9,577.1 262.1,576.3 262.3,571.4 262.5,565.3 262.7,561.5 262.9,562.3 263.1,567.2 263.3,573.3 263.5,577.1 263.7,576.3 263.9,571.4 264.1,565.3 264.3,561.5 264.5,562.3 264.7,567.2 264.9,573.3 265.1,577.1 265.3,576.3 265.5,571.4 265.7,565.3 265.9,561.5 266.1,562.3 266.3,567.2 266.5,573.3 266.7,577.1 266.9,576.3 267.2,571.4 267.4,565.3 267.6,561.5 267.8,562.3 268,567.2 268.2,573.3 268.4,577.1 268.6,576.3 268.8,571.4 269,565.3 269.2,561.5 269.4,562.3 269.6,567.2 269.8,573.3 270,577.1 270.2,576.3 270.4,571.4 270.6,565.3 270.8,561.5 271,562.3 271.2,567.2 271.4,573.3 271.6,577.1 271.8,576.3 272,571.4 272.2,565.3 272.4,561.5 272.6,562.3 272.8,567.2 273,573.3 273.2,577.1 273.4,576.3 273.6,571.4 273.8,565.3 274,561.5 274.2,562.3 274.4,567.2 274.6,573.3 274.8,577.1 275,576.3 275.2,571.4 275.4,565.3 275.6,561.5 275.8,562.3" fill="none" stroke="#3b8ad8" stroke-width="0.75" stroke-linejoin="round"/>
<polyline points="82,569.3 82.2,563.6 82.4,561.2 82.6,563.6 82.8,569.3 83,575 83.2,577.4 83.4,575 83.6,569.3 83.8,563.6 84,561.2 84.2,563.6 84.4,569.3 84.6,575 84.8,577.4 85,575 85.2,569.3 85.4,563.6 85.6,561.2 85.8,563.6 86,569.3 86.2,575 86.4,577.4 86.6,575 86.8,569.3 87,563.6 87.2,561.2 87.5,563.6 87.7,569.3 87.9,575 88.1,577.4 88.3,575 88.5,569.3 88.7,563.6 88.9,561.2 89.1,563.6 89.3,569.3 89.5,575 89.7,577.4 89.9,575 90.1,569.3 90.3,563.6 90.5,561.2 90.7,563.6 90.9,569.3 91.1,575 91.3,577.4 91.5,575 91.7,569.3 91.9,563.6 92.1,561.2 92.3,563.6 92.5,569.3 92.7,575 92.9,577.4 93.1,575 93.3,569.3 93.5,563.6 93.7,561.2 93.9,563.6 94.1,569.3 94.3,575 94.5,577.4 94.7,575 94.9,569.3 95.1,563.6 95.3,561.2 95.5,563.6 95.7,569.3 95.9,575 96.1,577.4 96.3,575 96.5,569.3 96.7,563.6 96.9,561.2 97.1,563.6 97.3,569.3 97.5,575 97.7,577.4 98,575 98.2,569.3 98.4,563.6 98.6,561.2 98.8,563.6 99,569.3 99.2,575 99.4,577.4 99.6,575 99.8,569.3 100,563.6 100.2,561.2 100.4,563.6 100.6,569.3 100.8,575 101,577.4 101.2,575 101.4,569.3 101.6,563.6 101.8,561.2 102,563.6 102.2,569.3 102.4,575 102.6,577.4 102.8,575 103,569.3 103.2,563.6 103.4,561.2 103.6,563.6 103.8,569.3 104,575 104.2,577.4 104.4,575 104.6,569.3 104.8,563.6 105,561.2 105.2,563.6 105.4,569.3 105.6,575 105.8,577.4 106,575 106.2,569.3 106.4,563.6 106.6,561.2 106.8,563.6 107,569.3 107.2,575 107.4,577.4 107.6,575 107.8,569.3 108,563.6 108.2,561.2 108.5,563.6 108.7,569.3 108.9,575 109.1,577.4 109.3,575 109.5,569.3 109.7,563.6 109.9,561.2 110.1,563.6 110.3,569.3 110.5,575 110.7,577.4 110.9,575 111.1,569.3 111.3,563.6 111.5,561.2 111.7,563.6 111.9,569.3 112.1,575 112.3,577.4 112.5,575 112.7,569.3 112.9,563.6 113.1,561.2 113.3,563.6 113.5,569.3 113.7,575 113.9,577.4 114.1,575 114.3,569.3 114.5,563.6 114.7,561.2 114.9,563.6 115.1,569.3 115.3,575 115.5,577.4 115.7,575 115.9,569.3 116.1,563.6 116.3,561.2 116.5,563.6 116.7,569.3 116.9,575 117.1,577.4 117.3,575 117.5,569.3 117.7,563.6 117.9,561.2 118.1,563.6 118.3,569.3 118.5,575 118.7,577.4 118.9,575 119.2,569.3 119.4,563.6 119.6,561.2 119.8,563.6 120,569.3 120.2,575 120.4,577.4 120.6,575 120.8,569.3 121,563.6 121.2,561.2 121.4,563.6 121.6,569.3 121.8,575 122,577.4 122.2,575 122.4,569.3 122.6,563.6 122.8,561.2 123,563.6 123.2,569.3 123.4,575 123.6,577.4 123.8,575 124,569.3 124.2,563.6 124.4,561.2 124.6,563.6 124.8,569.3 125,575 125.2,577.4 125.4,575 125.6,569.3 125.8,563.6 126,561.2 126.2,563.6 126.4,569.3 126.6,575 126.8,577.4 127,575 127.2,569.3 127.4,563.6 127.6,561.2 127.8,563.6 128,569.3 128.2,575 128.4,577.4 128.6,575 128.8,569.3 129,563.6 129.2,561.2 129.4,563.6 129.7,569.3 129.9,575 130.1,577.4 130.3,575 130.5,569.3 130.7,563.6 130.9,561.2 131.1,563.6 131.3,569.3 131.5,575 131.7,577.4 131.9,575 132.1,569.3 132.3,563.6 132.5,561.2 132.7,563.6 132.9,569.3 133.1,575 133.3,577.4 133.5,575 133.7,569.3 133.9,563.6 134.1,561.2 134.3,563.6 134.5,569.3 134.7,575 134.9,577.4 135.1,575 135.3,569.3 135.5,563.6 135.7,561.2 135.9,563.6 136.1,569.3 136.3,575 136.5,577.4 136.7,575 136.9,569.3 137.1,563.6 137.3,561.2 137.5,563.6 137.7,569.3 137.9,575 138.1,577.4 138.3,575 138.5,569.3 138.7,563.6 138.9,561.2 139.1,563.6 139.3,569.3 139.5,575 139.7,577.4 139.9,575 140.2,569.3 140.4,563.6 140.6,561.2 140.8,563.6 141,569.3 141.2,575 141.4,577.4 141.6,575 141.8,569.3 142,563.6 142.2,561.2 142.4,563.6 142.6,569.3 142.8,575 143,577.4 143.2,575 143.4,569.3 143.6,563.6 143.8,561.2 144,563.6 144.2,569.3 144.4,575 144.6,577.4 144.8,575 145,569.3 145.2,563.6 145.4,561.2 145.6,563.6 145.8,569.3 146,575 146.2,577.4 146.4,575 146.6,569.3 146.8,563.6 147,561.2 147.2,563.6 147.4,569.3 147.6,575 147.8,577.4 148,575 148.2,569.3 148.4,563.6 148.6,561.2 148.8,563.6 149,569.3 149.2,575 149.4,577.4 149.6,575 149.8,569.3 150,563.6 150.2,561.2 150.4,563.6 150.6,569.3 150.9,575 151.1,577.4 151.3,575 151.5,569.3 151.7,563.6 151.9,561.2 152.1,563.6 152.3,569.3 152.5,575 152.7,577.4 152.9,575 153.1,569.3 153.3,563.6 153.5,561.2 153.7,563.6 153.9,569.3 154.1,575 154.3,577.4 154.5,575 154.7,569.3 154.9,563.6 155.1,561.2 155.3,563.6 155.5,569.3 155.7,575 155.9,577.4 156.1,575 156.3,569.3 156.5,563.6 156.7,561.2 156.9,563.6 157.1,569.3 157.3,575 157.5,577.4 157.7,575 157.9,569.3 158.1,563.6 158.3,561.2 158.5,563.6 158.7,569.3 158.9,575 159.1,577.4 159.3,575 159.5,569.3 159.7,563.6 159.9,561.2 160.1,563.6 160.3,569.3 160.5,575 160.7,577.4 160.9,575 161.1,569.3 161.4,563.6 161.6,561.2 161.8,563.6 162,569.3 162.2,575 162.4,577.4 162.6,575 162.8,569.3 163,563.6 163.2,561.2 163.4,563.6 163.6,569.3 163.8,575 164,577.4 164.2,575 164.4,569.3 164.6,563.6 164.8,561.2 165,563.6 165.2,569.3 165.4,575 165.6,577.4 165.8,575 166,569.3 166.2,563.6 166.4,561.2 166.6,563.6 166.8,569.3 167,575 167.2,577.4 167.4,575 167.6,569.3 167.8,563.6 168,561.2 168.2,563.6 168.4,569.3 168.6,575 168.8,577.4 169,575 169.2,569.3 169.4,563.6 169.6,561.2 169.8,563.6 170,569.3 170.2,575 170.4,577.4 170.6,575 170.8,569.3 171,563.6 171.2,561.2 171.4,563.6 171.6,569.3 171.8,575 172.1,577.4 172.3,575 172.5,569.3 172.7,563.6 172.9,561.2 173.1,563.6 173.3,569.3 173.5,575 173.7,577.4 173.9,575 174.1,569.3 174.3,563.6 174.5,561.2 174.7,563.6 174.9,569.3 175.1,575 175.3,577.4 175.5,575 175.7,569.3 175.9,563.6 176.1,561.2 176.3,563.6 176.5,569.3 176.7,575 176.9,577.4 177.1,575 177.3,569.3 177.5,563.6 177.7,561.2 177.9,563.6 178.1,569.3 178.3,575 178.5,577.4 178.7,575 178.9,569.3 179.1,563.6 179.3,561.2 179.5,563.6 179.7,569.3 179.9,575 180.1,577.4 180.3,575 180.5,569.3 180.7,563.6 180.9,561.2 181.1,563.6 181.3,569.3 181.5,575 181.7,577.4 181.9,575 182.1,569.3 182.3,563.6 182.6,561.2 182.8,563.6 183,569.3 183.2,575 183.4,577.4 183.6,575 183.8,569.3 184,563.6 184.2,561.2 184.4,563.6 184.6,569.3 184.8,575 185,577.4 185.2,575 185.4,569.3 185.6,563.6 185.8,561.2 186,563.6 186.2,569.3 186.4,575 186.6,577.4 186.8,575 187,569.3 187.2,563.6 187.4,561.2 187.6,563.6 187.8,569.3 188,575 188.2,577.4 188.4,575 188.6,569.3 188.8,563.6 189,561.2 189.2,563.6 189.4,569.3 189.6,575 189.8,577.4 190,575 190.2,569.3 190.4,563.6 190.6,561.2 190.8,563.6 191,569.3 191.2,575 191.4,577.4 191.6,575 191.8,569.3 192,563.6 192.2,561.2 192.4,563.6 192.6,569.3 192.8,575 193.1,577.4 193.3,575 193.5,569.3 193.7,563.6 193.9,561.2 194.1,563.6 194.3,569.3 194.5,575 194.7,577.4 194.9,575 195.1,569.3 195.3,563.6 195.5,561.2 195.7,563.6 195.9,569.3 196.1,575 196.3,577.4 196.5,575 196.7,569.3 196.9,563.6 197.1,561.2 197.3,563.6 197.5,569.3 197.7,575 197.9,577.4 198.1,575 198.3,569.3 198.5,563.6 198.7,561.2 198.9,563.6 199.1,569.3 199.3,575 199.5,577.4 199.7,575 199.9,569.3 200.1,563.6 200.3,561.2 200.5,563.6 200.7,569.3 200.9,575 201.1,577.4 201.3,575 201.5,569.3 201.7,563.6 201.9,561.2 202.1,563.6 202.3,569.3 202.5,575 202.7,577.4 202.9,575 203.1,569.3 203.3,563.6 203.5,561.2 203.8,563.6 204,569.3 204.2,575 204.4,577.4 204.6,575 204.8,569.3 205,563.6 205.2,561.2 205.4,563.6 205.6,569.3 205.8,575 206,577.4 206.2,575 206.4,569.3 206.6,563.6 206.8,561.2 207,563.6 207.2,569.3 207.4,575 207.6,577.4 207.8,575 208,569.3 208.2,563.6 208.4,561.2 208.6,563.6 208.8,569.3 209,575 209.2,577.4 209.4,575 209.6,569.3 209.8,563.6 210,561.2 210.2,563.6 210.4,569.3 210.6,575 210.8,577.4 211,575 211.2,569.3 211.4,563.6 211.6,561.2 211.8,563.6 212,569.3 212.2,575 212.4,577.4 212.6,575 212.8,569.3 213,563.6 213.2,561.2 213.4,563.6 213.6,569.3 213.8,575 214,577.4 214.3,575 214.5,569.3 214.7,563.6 214.9,561.2 215.1,563.6 215.3,569.3 215.5,575 215.7,577.4 215.9,575 216.1,569.3 216.3,563.6 216.5,561.2 216.7,563.6 216.9,569.3 217.1,575 217.3,577.4 217.5,575 217.7,569.3 217.9,563.6 218.1,561.2 218.3,563.6 218.5,569.3 218.7,575 218.9,577.4 219.1,575 219.3,569.3 219.5,563.6 219.7,561.2 219.9,563.6 220.1,569.3 220.3,575 220.5,577.4 220.7,575 220.9,569.3 221.1,563.6 221.3,561.2 221.5,563.6 221.7,569.3 221.9,575 222.1,577.4 222.3,575 222.5,569.3 222.7,563.6 222.9,561.2 223.1,563.6 223.3,569.3 223.5,575 223.7,577.4 223.9,575 224.1,569.3 224.3,563.6 224.5,561.2 224.8,563.6 225,569.3 225.2,575 225.4,577.4 225.6,575 225.8,569.3 226,563.6 226.2,561.2 226.4,563.6 226.6,569.3 226.8,575 227,577.4 227.2,575 227.4,569.3 227.6,563.6 227.8,561.2 228,563.6 228.2,569.3 228.4,575 228.6,577.4 228.8,575 229,569.3 229.2,563.6 229.4,561.2 229.6,563.6 229.8,569.3 230,575 230.2,577.4 230.4,575 230.6,569.3 230.8,563.6 231,561.2 231.2,563.6 231.4,569.3 231.6,575 231.8,577.4 232,575 232.2,569.3 232.4,563.6 232.6,561.2 232.8,563.6 233,569.3 233.2,575 233.4,577.4 233.6,575 233.8,569.3 234,563.6 234.2,561.2 234.4,563.6 234.6,569.3 234.8,575 235,577.4 235.2,575 235.5,569.3 235.7,563.6 235.9,561.2 236.1,563.6 236.3,569.3 236.5,575 236.7,577.4 236.9,575 237.1,569.3 237.3,563.6 237.5,561.2 237.7,563.6 237.9,569.3 238.1,575 238.3,577.4 238.5,575 238.7,569.3 238.9,563.6 239.1,561.2 239.3,563.6 239.5,569.3 239.7,575 239.9,577.4 240.1,575 240.3,569.3 240.5,563.6 240.7,561.2 240.9,563.6 241.1,569.3 241.3,575 241.5,577.4 241.7,575 241.9,569.3 242.1,563.6 242.3,561.2 242.5,563.6 242.7,569.3 242.9,575 243.1,577.4 243.3,575 243.5,569.3 243.7,563.6 243.9,561.2 244.1,563.6 244.3,569.3 244.5,575 244.7,577.4 244.9,575 245.1,569.3 245.3,563.6 245.5,561.2 245.7,563.6 246,569.3 246.2,575 246.4,577.4 246.6,575 246.8,569.3 247,563.6 247.2,561.2 247.4,563.6 247.6,569.3 247.8,575 248,577.4 248.2,575 248.4,569.3 248.6,563.6 248.8,561.2 249,563.6 249.2,569.3 249.4,575 249.6,577.4 249.8,575 250,569.3 250.2,563.6 250.4,561.2 250.6,563.6 250.8,569.3 251,575 251.2,577.4 251.4,575 251.6,569.3 251.8,563.6 252,561.2 252.2,563.6 252.4,569.3 252.6,575 252.8,577.4 253,575 253.2,569.3 253.4,563.6 253.6,561.2 253.8,563.6 254,569.3 254.2,575 254.4,577.4 254.6,575 254.8,569.3 255,563.6 255.2,561.2 255.4,563.6 255.6,569.3 255.8,575 256,577.4 256.2,575 256.5,569.3 256.7,563.6 256.9,561.2 257.1,563.6 257.3,569.3 257.5,575 257.7,577.4 257.9,575 258.1,569.3 258.3,563.6 258.5,561.2 258.7,563.6 258.9,569.3 259.1,575 259.3,577.4 259.5,575 259.7,569.3 259.9,563.6 260.1,561.2 260.3,563.6 260.5,569.3 260.7,575 260.9,577.4 261.1,575 261.3,569.3 261.5,563.6 261.7,561.2 261.9,563.6 262.1,569.3 262.3,575 262.5,577.4 262.7,575 262.9,569.3 263.1,563.6 263.3,561.2 263.5,563.6 263.7,569.3 263.9,575 264.1,577.4 264.3,575 264.5,569.3 264.7,563.6 264.9,561.2 265.1,563.6 265.3,569.3 265.5,575 265.7,577.4 265.9,575 266.1,569.3 266.3,563.6 266.5,561.2 266.7,563.6 266.9,569.3 267.2,575 267.4,577.4 267.6,575 267.8,569.3 268,563.6 268.2,561.2 268.4,563.6 268.6,569.3 268.8,575 269,577.4 269.2,575 269.4,569.3 269.6,563.6 269.8,561.2 270,563.6 270.2,569.3 270.4,575 270.6,577.4 270.8,575 271,569.3 271.2,563.6 271.4,561.2 271.6,563.6 271.8,569.3 272,575 272.2,577.4 272.4,575 272.6,569.3 272.8,563.6 273,561.2 273.2,563.6 273.4,569.3 273.6,575 273.8,577.4 274,575 274.2,569.3 274.4,563.6 274.6,561.2 274.8,563.6 275,569.3 275.2,575 275.4,577.4 275.6,575 275.8,569.3" fill="none" stroke="#ee6a3b" stroke-width="0.72" stroke-linejoin="round"/>
<path d="M277.5 569.3V560.9M279.1 569.3V559M280.7 569.3V555.6M282.3 569.3V546.1M283.9 569.3V536.4M285.6 569.3V534.1M287.2 569.3V532.2M288.8 569.3V532M290.4 569.3V533M292 569.3V529.4M293.6 569.3V531.8M295.2 569.3V531.1M296.9 569.3V526.7M298.5 569.3V527.5M300.1 569.3V527.2M301.7 569.3V527.6M303.3 569.3V524.3M304.9 569.3V525M306.6 569.3V524.1M308.2 569.3V525.6M309.8 569.3V525.3M311.4 569.3V523.4M313 569.3V522.1M314.6 569.3V523.7M316.2 569.3V521.4M317.9 569.3V523.4M319.5 569.3V521.5M321.1 569.3V520.5M322.7 569.3V520.4M324.3 569.3V522M325.9 569.3V520.4M327.6 569.3V521.2M329.2 569.3V521.6M330.8 569.3V520.8M332.4 569.3V520.6M334 569.3V518M335.6 569.3V519.3M337.2 569.3V519.9M338.9 569.3V519M340.5 569.3V518.1M342.1 569.3V517.9M343.7 569.3V517.2M345.3 569.3V517M346.9 569.3V516.6M348.6 569.3V516.2M350.2 569.3V517.4M351.8 569.3V518M353.4 569.3V517.5M355 569.3V515.7M356.6 569.3V517.4M358.2 569.3V516M359.9 569.3V514.1M361.5 569.3V514.9M363.1 569.3V514.8M364.7 569.3V514M366.3 569.3V513.5M367.9 569.3V513.7M369.6 569.3V515.6M371.2 569.3V514.5M372.8 569.3V514.6M374.4 569.3V514.8M376 569.3V516.7M377.6 569.3V515.9M379.2 569.3V515.5M380.9 569.3V515.2M382.5 569.3V515.5M384.1 569.3V514.8M385.7 569.3V515.4M387.3 569.3V514.9M388.9 569.3V517.4M390.5 569.3V515.3M392.2 569.3V517M393.8 569.3V514.8M395.4 569.3V517.6M397 569.3V515.7M398.6 569.3V518.1M400.2 569.3V518.3M401.9 569.3V515.3M403.5 569.3V516.5M405.1 569.3V517.2M406.7 569.3V518.4M408.3 569.3V515.3M409.9 569.3V515.2M411.5 569.3V514.3M413.2 569.3V515.1M414.8 569.3V515.4M416.4 569.3V518.6M418 569.3V516.6M419.6 569.3V518.4M421.2 569.3V517.2M422.9 569.3V518.4M424.5 569.3V515.1M426.1 569.3V517.9M427.7 569.3V516.2M429.3 569.3V518.7M430.9 569.3V518.1M432.5 569.3V515.2M434.2 569.3V516M435.8 569.3V516.8M437.4 569.3V518M439 569.3V516.3M440.6 569.3V516.2M442.2 569.3V517.2M443.9 569.3V516.2M445.5 569.3V518.5M447.1 569.3V518.1M448.7 569.3V517.1M450.3 569.3V516.2M451.9 569.3V517.7M453.5 569.3V516.3M455.2 569.3V516.2M456.8 569.3V516.1M458.4 569.3V517.3M460 569.3V519.1M461.6 569.3V517.9M463.2 569.3V518.3M464.9 569.3V518.7M466.5 569.3V519M468.1 569.3V518.3M469.7 569.3V518.3M471.3 569.3V515.7M472.9 569.3V519.2M474.5 569.3V517.8M476.2 569.3V516M477.8 569.3V519.3M479.4 569.3V517.6M481 569.3V518.1M482.6 569.3V516.4M484.2 569.3V517.8M485.9 569.3V516.7M487.5 569.3V516.2M489.1 569.3V519.3M490.7 569.3V516.7M492.3 569.3V518.4M493.9 569.3V519.3M495.5 569.3V519.3M497.2 569.3V517.6M498.8 569.3V516.4M500.4 569.3V516M502 569.3V518.5M503.6 569.3V516.1M505.2 569.3V517.1M506.8 569.3V517.1M508.5 569.3V519.2M510.1 569.3V517.6M511.7 569.3V518.6M513.3 569.3V516.5M514.9 569.3V519.2M516.5 569.3V516.5M518.2 569.3V517M519.8 569.3V517.4M521.4 569.3V516.9M523 569.3V519.6M524.6 569.3V518.1M526.2 569.3V519.8M527.8 569.3V518.9M529.5 569.3V517.5M531.1 569.3V518.9M532.7 569.3V516.7M534.3 569.3V518.4M535.9 569.3V519.2M537.5 569.3V519.8M539.2 569.3V517.2M540.8 569.3V518.8M542.4 569.3V516.5M544 569.3V515.5M545.6 569.3V518.7M547.2 569.3V517M548.8 569.3V516.7M550.5 569.3V518.6M552.1 569.3V518.5M553.7 569.3V516.7M555.3 569.3V518.3M556.9 569.3V518M558.5 569.3V517.1M560.2 569.3V519M561.8 569.3V517.2M563.4 569.3V518.9M565 569.3V517.9M566.6 569.3V518.5M568.2 569.3V517M569.8 569.3V517M571.5 569.3V518.5M573.1 569.3V518.7M574.7 569.3V517.2M576.3 569.3V518.5M577.9 569.3V518.9M579.5 569.3V517.5M581.2 569.3V518.9M582.8 569.3V520M584.4 569.3V519.2M586 569.3V518.5M587.6 569.3V519M589.2 569.3V517.5M590.8 569.3V516.7M592.5 569.3V519.6M594.1 569.3V517.9M595.7 569.3V519.6M597.3 569.3V517.9M598.9 569.3V519.2M600.5 569.3V517.4M602.2 569.3V517.7M603.8 569.3V518.3M605.4 569.3V519.9M607 569.3V517.3M608.6 569.3V518.7M610.2 569.3V518.5M611.8 569.3V517.5M613.5 569.3V519.1M615.1 569.3V518.9M616.7 569.3V518.2M618.3 569.3V518.8M619.9 569.3V518.7M621.5 569.3V520.3M623.1 569.3V519.9M624.8 569.3V520M626.4 569.3V520.3M628 569.3V519.5M629.6 569.3V520.3M631.2 569.3V520.2M632.8 569.3V518.2M634.5 569.3V517.5M636.1 569.3V520.2M637.7 569.3V518.8M639.3 569.3V517.3M640.9 569.3V519.6M642.5 569.3V518.7M644.1 569.3V518.9M645.8 569.3V517.3M647.4 569.3V517.9M649 569.3V518.8M650.6 569.3V519.1M652.2 569.3V517.6M653.8 569.3V518.3M655.5 569.3V520.7M657.1 569.3V517.6M658.7 569.3V518.6M660.3 569.3V518.6M661.9 569.3V518.9M278.3 569.3V577.7M279.9 569.3V578.2M281.5 569.3V582.8M283.1 569.3V594.8M284.7 569.3V601.7M286.4 569.3V603.4M288 569.3V602.9M289.6 569.3V603.4M291.2 569.3V606.1M292.8 569.3V605.2M294.4 569.3V605.6M296 569.3V608.3M297.7 569.3V608.3M299.3 569.3V609.6M300.9 569.3V609.5M302.5 569.3V609.8M304.1 569.3V611.2M305.7 569.3V609.5M307.4 569.3V609.5M309 569.3V612M310.6 569.3V610.4M312.2 569.3V611M313.8 569.3V613.6M315.4 569.3V613.8M317 569.3V613M318.7 569.3V613.1M320.3 569.3V614.2M321.9 569.3V614.1M323.5 569.3V613.9M325.1 569.3V616.8M326.7 569.3V615.5M328.4 569.3V614.8M330 569.3V615.4M331.6 569.3V617.8M333.2 569.3V618.3M334.8 569.3V616.4M336.4 569.3V618.4M338 569.3V617.1M339.7 569.3V620.2M341.3 569.3V617.4M342.9 569.3V618.9M344.5 569.3V619M346.1 569.3V617.3M347.7 569.3V617.7M349.4 569.3V619.3M351 569.3V619.3M352.6 569.3V620.4M354.2 569.3V619.5M355.8 569.3V617.8M357.4 569.3V618.5M359 569.3V620M360.7 569.3V618.6M362.3 569.3V621.4M363.9 569.3V621.2M365.5 569.3V621.2M367.1 569.3V621.6M368.7 569.3V621M370.4 569.3V620.9M372 569.3V620.7M373.6 569.3V621.5M375.2 569.3V620.7M376.8 569.3V621.9M378.4 569.3V619M380 569.3V620.8M381.7 569.3V621M383.3 569.3V619.2M384.9 569.3V621.1M386.5 569.3V618.9M388.1 569.3V620.5M389.7 569.3V621.3M391.3 569.3V621.8M393 569.3V619.2M394.6 569.3V621.7M396.2 569.3V619.7M397.8 569.3V618.2M399.4 569.3V618.3M401 569.3V618.7M402.7 569.3V618M404.3 569.3V619.8M405.9 569.3V620.7M407.5 569.3V620.5M409.1 569.3V618.7M410.7 569.3V618.9M412.3 569.3V619.1M414 569.3V619.5M415.6 569.3V619.9M417.2 569.3V619M418.8 569.3V618.8M420.4 569.3V619.8M422 569.3V618.9M423.7 569.3V620.3M425.3 569.3V618.5M426.9 569.3V617.5M428.5 569.3V620M430.1 569.3V619.4M431.7 569.3V620.7M433.3 569.3V617.6M435 569.3V620.5M436.6 569.3V618.4M438.2 569.3V617.6M439.8 569.3V620.4M441.4 569.3V623.4M443 569.3V617.6M444.7 569.3V618.3M446.3 569.3V623.7M447.9 569.3V618.3M449.5 569.3V618.1M451.1 569.3V619.1M452.7 569.3V618.4M454.3 569.3V618.9M456 569.3V620.2M457.6 569.3V617.6M459.2 569.3V617.6M460.8 569.3V618M462.4 569.3V620.2M464 569.3V619.1M465.7 569.3V618M467.3 569.3V617.2M468.9 569.3V618M470.5 569.3V620.4M472.1 569.3V618.3M473.7 569.3V617.4M475.3 569.3V618M477 569.3V619.6M478.6 569.3V618.2M480.2 569.3V617.9M481.8 569.3V618.7M483.4 569.3V617.7M485 569.3V620.2M486.7 569.3V618.6M488.3 569.3V619.9M489.9 569.3V621.6M491.5 569.3V619.7M493.1 569.3V618.2M494.7 569.3V619.8M496.3 569.3V618.5M498 569.3V618.5M499.6 569.3V619.6M501.2 569.3V617.9M502.8 569.3V617.1M504.4 569.3V618M506 569.3V618.3M507.6 569.3V619.3M509.3 569.3V620.2M510.9 569.3V617.5M512.5 569.3V619.7M514.1 569.3V619M515.7 569.3V619.9M517.3 569.3V617.5M519 569.3V617.3M520.6 569.3V618.1M522.2 569.3V619.1M523.8 569.3V619.8M525.4 569.3V619M527 569.3V619.4M528.6 569.3V617.8M530.3 569.3V617.8M531.9 569.3V618.8M533.5 569.3V618.1M535.1 569.3V619.9M536.7 569.3V617M538.3 569.3V617.3M540 569.3V616.9M541.6 569.3V619M543.2 569.3V618.5M544.8 569.3V616.6M546.4 569.3V618.8M548 569.3V618.9M549.6 569.3V621.1M551.3 569.3V618M552.9 569.3V618.8M554.5 569.3V617.5M556.1 569.3V617.9M557.7 569.3V616.5M559.3 569.3V619.7M561 569.3V617.3M562.6 569.3V617.6M564.2 569.3V618.1M565.8 569.3V617.8M567.4 569.3V619.3M569 569.3V616.8M570.6 569.3V619.6M572.3 569.3V617M573.9 569.3V619.1M575.5 569.3V619.8M577.1 569.3V618.3M578.7 569.3V616.4M580.3 569.3V617.9M582 569.3V616.7M583.6 569.3V618.4M585.2 569.3V618.4M586.8 569.3V617.3M588.4 569.3V616.9M590 569.3V618.2M591.6 569.3V618.8M593.3 569.3V618.8M594.9 569.3V618.8M596.5 569.3V617.7M598.1 569.3V618.5M599.7 569.3V619.6M601.3 569.3V616.3M603 569.3V616.5M604.6 569.3V618.2M606.2 569.3V618.5M607.8 569.3V618.5M609.4 569.3V619M611 569.3V616.5M612.6 569.3V622.4M614.3 569.3V618.5M615.9 569.3V618.7M617.5 569.3V617.4M619.1 569.3V618.9M620.7 569.3V620.9M622.3 569.3V616.2M623.9 569.3V616.8M625.6 569.3V619.2M627.2 569.3V617.5M628.8 569.3V616.6M630.4 569.3V616.5M632 569.3V618.6M633.6 569.3V618.1M635.3 569.3V617.7M636.9 569.3V616.3M638.5 569.3V618.1M640.1 569.3V616.5M641.7 569.3V619M643.3 569.3V616M644.9 569.3V619.2M646.6 569.3V616.3M648.2 569.3V616.8M649.8 569.3V619.2M651.4 569.3V617.9M653 569.3V618.5M654.6 569.3V616.4M656.3 569.3V617.3M657.9 569.3V621.6M659.5 569.3V616M661.1 569.3V618.3M662.7 569.3V618.9" fill="none" stroke="#efc23c" stroke-width="1.2"/>
<path d="M276.9 569.3V561.8M278.6 569.3V561.6M280.2 569.3V560.7M281.8 569.3V556.5M283.4 569.3V544.3M285 569.3V542.7M286.6 569.3V535M288.2 569.3V536.4M289.9 569.3V535.3M291.5 569.3V536.3M293.1 569.3V544.7M294.7 569.3V531.9M296.3 569.3V531.1M297.9 569.3V530.9M299.6 569.3V530.1M301.2 569.3V530.1M302.8 569.3V529M304.4 569.3V532.2M306 569.3V544.3M307.6 569.3V530.7M309.2 569.3V540.4M310.9 569.3V529.8M312.5 569.3V539.4M314.1 569.3V527.7M315.7 569.3V528.2M317.3 569.3V525.8M318.9 569.3V525M320.6 569.3V536.9M322.2 569.3V521.8M323.8 569.3V523.5M325.4 569.3V521M327 569.3V528.9M328.6 569.3V523.1M330.2 569.3V519.5M331.9 569.3V523.7M333.5 569.3V525.3M335.1 569.3V525.4M336.7 569.3V527.1M338.3 569.3V523.8M339.9 569.3V526M341.6 569.3V524.6M343.2 569.3V530.6M344.8 569.3V523M346.4 569.3V520.9M348 569.3V522M349.6 569.3V536.5M351.2 569.3V516.5M352.9 569.3V515.8M354.5 569.3V517.9M356.1 569.3V519.1M357.7 569.3V518.2M359.3 569.3V519.6M360.9 569.3V519.9M362.5 569.3V522.7M364.2 569.3V523.8M365.8 569.3V539.4M367.4 569.3V521M369 569.3V521.6M370.6 569.3V520M372.2 569.3V520M373.9 569.3V515.8M375.5 569.3V535M377.1 569.3V517.2M378.7 569.3V515.2M380.3 569.3V519M381.9 569.3V518.3M383.5 569.3V517.7M385.2 569.3V521.6M386.8 569.3V536.3M388.4 569.3V521.6M390 569.3V520.8M391.6 569.3V524.6M393.2 569.3V525M394.9 569.3V523.9M396.5 569.3V519.7M398.1 569.3V518.1M399.7 569.3V519.2M401.3 569.3V534.4M402.9 569.3V517.3M404.5 569.3V518.8M406.2 569.3V520.5M407.8 569.3V520.4M409.4 569.3V536.7M411 569.3V531.6M412.6 569.3V521.9M414.2 569.3V532.8M415.9 569.3V525.7M417.5 569.3V522.2M419.1 569.3V517.8M420.7 569.3V520.5M422.3 569.3V520.5M423.9 569.3V522.7M425.5 569.3V519M427.2 569.3V524M428.8 569.3V522.6M430.4 569.3V524.8M432 569.3V522.1M433.6 569.3V520.8M435.2 569.3V522.8M436.9 569.3V517.3M438.5 569.3V516.9M440.1 569.3V517.6M441.7 569.3V536.4M443.3 569.3V518.9M444.9 569.3V524M446.5 569.3V522.8M448.2 569.3V521.8M449.8 569.3V521.2M451.4 569.3V522.5M453 569.3V517.9M454.6 569.3V516.5M456.2 569.3V520.7M457.9 569.3V516.5M459.5 569.3V522.3M461.1 569.3V525.2M462.7 569.3V536.2M464.3 569.3V523.1M465.9 569.3V522.5M467.5 569.3V523.8M469.2 569.3V521.9M470.8 569.3V518.3M472.4 569.3V520.6M474 569.3V517.5M475.6 569.3V519.8M477.2 569.3V521.3M478.8 569.3V524.2M480.5 569.3V525.2M482.1 569.3V524.2M483.7 569.3V523M485.3 569.3V519.5M486.9 569.3V518.8M488.5 569.3V518.8M490.2 569.3V520.6M491.8 569.3V522.1M493.4 569.3V522.5M495 569.3V525M496.6 569.3V525.7M498.2 569.3V522.1M499.8 569.3V521.7M501.5 569.3V521.9M503.1 569.3V519.4M504.7 569.3V518.6M506.3 569.3V518.9M507.9 569.3V526.9M509.5 569.3V522.4M511.2 569.3V522M512.8 569.3V538.1M514.4 569.3V522.3M516 569.3V522.6M517.6 569.3V521.9M519.2 569.3V521.9M520.8 569.3V521.8M522.5 569.3V517.9M524.1 569.3V521.2M525.7 569.3V523.5M527.3 569.3V522.3M528.9 569.3V525.5M530.5 569.3V522.5M532.2 569.3V534.4M533.8 569.3V522.5M535.4 569.3V521.6M537 569.3V520.9M538.6 569.3V522M540.2 569.3V533.8M541.8 569.3V523.5M543.5 569.3V523.1M545.1 569.3V526M546.7 569.3V526M548.3 569.3V526.7M549.9 569.3V527.6M551.5 569.3V518M553.2 569.3V518.4M554.8 569.3V517.3M556.4 569.3V520M558 569.3V519.6M559.6 569.3V524.9M561.2 569.3V526.5M562.8 569.3V523.4M564.5 569.3V526M566.1 569.3V534.5M567.7 569.3V529.2M569.3 569.3V523.8M570.9 569.3V519.6M572.5 569.3V517.1M574.2 569.3V529.8M575.8 569.3V526.5M577.4 569.3V526.3M579 569.3V525.1M580.6 569.3V524.2M582.2 569.3V524.7M583.8 569.3V524.1M585.5 569.3V520M587.1 569.3V521.8M588.7 569.3V521.8M590.3 569.3V519.9M591.9 569.3V521.8M593.5 569.3V524.7M595.1 569.3V522.9M596.8 569.3V524.6M598.4 569.3V522M600 569.3V521.9M601.6 569.3V517.8M603.2 569.3V519.5M604.8 569.3V521.7M606.5 569.3V518M608.1 569.3V521.4M609.7 569.3V523M611.3 569.3V523.6M612.9 569.3V524.6M614.5 569.3V524.9M616.1 569.3V521.4M617.8 569.3V519.2M619.4 569.3V522M621 569.3V519.1M622.6 569.3V518.8M624.2 569.3V520.8M625.8 569.3V525.5M627.5 569.3V523.4M629.1 569.3V522.7M630.7 569.3V531.9M632.3 569.3V522.2M633.9 569.3V523.5M635.5 569.3V519M637.1 569.3V518.1M638.8 569.3V522.5M640.4 569.3V520.8M642 569.3V525.4M643.6 569.3V524.7M645.2 569.3V522.9M646.8 569.3V526M648.5 569.3V523.7M650.1 569.3V519.6M651.7 569.3V520.2M653.3 569.3V529.4M654.9 569.3V520.5M656.5 569.3V520.8M658.1 569.3V522.3M659.8 569.3V524.8M661.4 569.3V538.5M663 569.3V526.7M277.7 569.3V577.8M279.4 569.3V577.6M281 569.3V576.6M282.6 569.3V589.7M284.2 569.3V598.9M285.8 569.3V601.4M287.4 569.3V599.9M289 569.3V599.6M290.7 569.3V598.9M292.3 569.3V599.4M293.9 569.3V597.5M295.5 569.3V601.1M297.1 569.3V601.5M298.7 569.3V602.2M300.4 569.3V600.4M302 569.3V605M303.6 569.3V606.3M305.2 569.3V610.3M306.8 569.3V608.3M308.4 569.3V611.5M310 569.3V610.6M311.7 569.3V611.9M313.3 569.3V610M314.9 569.3V611.9M316.5 569.3V608.7M318.1 569.3V608.3M319.7 569.3V596M321.4 569.3V610.5M323 569.3V597M324.6 569.3V609M326.2 569.3V608.6M327.8 569.3V608.4M329.4 569.3V606.2M331 569.3V610.3M332.7 569.3V604.4M334.3 569.3V615M335.9 569.3V615.8M337.5 569.3V617.7M339.1 569.3V610.6M340.7 569.3V614.3M342.4 569.3V618.1M344 569.3V617.9M345.6 569.3V615.8M347.2 569.3V613.8M348.8 569.3V597.6M350.4 569.3V612.8M352 569.3V611.3M353.7 569.3V612.6M355.3 569.3V614.3M356.9 569.3V613.4M358.5 569.3V615.9M360.1 569.3V617.3M361.7 569.3V615.3M363.3 569.3V618.3M365 569.3V617.4M366.6 569.3V618.7M368.2 569.3V618.5M369.8 569.3V617.9M371.4 569.3V618M373 569.3V618.9M374.7 569.3V612.9M376.3 569.3V612.6M377.9 569.3V616.2M379.5 569.3V612.5M381.1 569.3V613.5M382.7 569.3V616.1M384.3 569.3V614.7M386 569.3V618.4M387.6 569.3V620.1M389.2 569.3V619.2M390.8 569.3V616.8M392.4 569.3V619.3M394 569.3V605.2M395.7 569.3V614.6M397.3 569.3V599.6M398.9 569.3V615.7M400.5 569.3V613.2M402.1 569.3V611.7M403.7 569.3V614.7M405.3 569.3V613.3M407 569.3V614.7M408.6 569.3V617.3M410.2 569.3V620.5M411.8 569.3V610.4M413.4 569.3V619.2M415 569.3V619.4M416.7 569.3V616.4M418.3 569.3V611.7M419.9 569.3V610.9M421.5 569.3V603.6M423.1 569.3V613.8M424.7 569.3V612M426.3 569.3V616.3M428 569.3V615.7M429.6 569.3V615.3M431.2 569.3V617.7M432.8 569.3V617.1M434.4 569.3V614.1M436 569.3V613.2M437.7 569.3V611.5M439.3 569.3V598.7M440.9 569.3V612M442.5 569.3V614.3M444.1 569.3V616.3M445.7 569.3V618.4M447.3 569.3V616.2M449 569.3V615.9M450.6 569.3V606.8M452.2 569.3V615.6M453.8 569.3V611.6M455.4 569.3V612.7M457 569.3V613.7M458.7 569.3V615M460.3 569.3V613.9M461.9 569.3V615.7M463.5 569.3V612.6M465.1 569.3V618.1M466.7 569.3V617.2M468.3 569.3V616.8M470 569.3V612.5M471.6 569.3V610.7M473.2 569.3V613.4M474.8 569.3V611.4M476.4 569.3V617.3M478 569.3V614M479.6 569.3V617.3M481.3 569.3V616.8M482.9 569.3V615.3M484.5 569.3V616.9M486.1 569.3V608.1M487.7 569.3V611.2M489.3 569.3V612.5M491 569.3V611.1M492.6 569.3V615.7M494.2 569.3V615.3M495.8 569.3V615.9M497.4 569.3V619M499 569.3V618.4M500.6 569.3V616.4M502.3 569.3V605M503.9 569.3V611.8M505.5 569.3V614.3M507.1 569.3V611.8M508.7 569.3V613M510.3 569.3V616.4M512 569.3V600.8M513.6 569.3V617.1M515.2 569.3V617.7M516.8 569.3V610.1M518.4 569.3V615.5M520 569.3V611.1M521.6 569.3V613M523.3 569.3V600.1M524.9 569.3V611.6M526.5 569.3V615.8M528.1 569.3V617.8M529.7 569.3V615.2M531.3 569.3V616.6M533 569.3V614.2M534.6 569.3V614.7M536.2 569.3V611.2M537.8 569.3V610.5M539.4 569.3V605.4M541 569.3V613M542.6 569.3V617.3M544.3 569.3V619.5M545.9 569.3V618.6M547.5 569.3V617.1M549.1 569.3V615.1M550.7 569.3V616.4M552.3 569.3V614.5M554 569.3V610.6M555.6 569.3V610.9M557.2 569.3V614.2M558.8 569.3V616.4M560.4 569.3V615.9M562 569.3V617.1M563.6 569.3V616.7M565.3 569.3V617.4M566.9 569.3V616.8M568.5 569.3V612.3M570.1 569.3V613.9M571.7 569.3V612.7M573.3 569.3V610.9M575 569.3V615.4M576.6 569.3V615.8M578.2 569.3V617.8M579.8 569.3V615.1M581.4 569.3V615.8M583 569.3V616.1M584.6 569.3V599.3M586.3 569.3V614M587.9 569.3V612.7M589.5 569.3V609.9M591.1 569.3V613.2M592.7 569.3V604.8M594.3 569.3V617M595.9 569.3V615M597.6 569.3V610.4M599.2 569.3V598.1M600.8 569.3V608.2M602.4 569.3V614M604 569.3V608M605.6 569.3V612.1M607.3 569.3V600.9M608.9 569.3V615.7M610.5 569.3V617M612.1 569.3V614.3M613.7 569.3V618.2M615.3 569.3V613.4M616.9 569.3V614.4M618.6 569.3V612.9M620.2 569.3V611.3M621.8 569.3V611.2M623.4 569.3V614.7M625 569.3V616M626.6 569.3V604.7M628.3 569.3V617.3M629.9 569.3V618.4M631.5 569.3V605.7M633.1 569.3V603.3M634.7 569.3V613.6M636.3 569.3V612M637.9 569.3V604.4M639.6 569.3V610.7M641.2 569.3V613.9M642.8 569.3V617.6M644.4 569.3V617.1M646 569.3V614.8M647.6 569.3V616.8M649.3 569.3V612M650.9 569.3V606.4M652.5 569.3V609M654.1 569.3V612.2M655.7 569.3V612.4M657.3 569.3V605.1M658.9 569.3V616.5M660.6 569.3V611.3M662.2 569.3V600.1" fill="none" stroke="#7082a6" stroke-width="1.2" opacity="0.9"/>
<path d="M276.4 569.3V561.7M278 569.3V561.5M279.6 569.3V560.4M281.2 569.3V556.6M282.9 569.3V547M284.5 569.3V535.1M286.1 569.3V535.3M287.7 569.3V533.2M289.3 569.3V535.2M290.9 569.3V535M292.6 569.3V534.6M294.2 569.3V529.6M295.8 569.3V532M297.4 569.3V532.9M299 569.3V532.4M300.6 569.3V531.4M302.2 569.3V526.5M303.9 569.3V528.2M305.5 569.3V528.7M307.1 569.3V529.8M308.7 569.3V526.7M310.3 569.3V523M311.9 569.3V521.6M313.6 569.3V522.9M315.2 569.3V527.3M316.8 569.3V520.9M318.4 569.3V524.9M320 569.3V525.7M321.6 569.3V523.1M323.2 569.3V520.7M324.9 569.3V524.4M326.5 569.3V523.6M328.1 569.3V519.2M329.7 569.3V523M331.3 569.3V524.1M332.9 569.3V520.5M334.6 569.3V517.6M336.2 569.3V521.7M337.8 569.3V516.9M339.4 569.3V519.2M341 569.3V522.1M342.6 569.3V521M344.2 569.3V518.2M345.9 569.3V516.5M347.5 569.3V518.9M349.1 569.3V522.3M350.7 569.3V522M352.3 569.3V521.9M353.9 569.3V516.8M355.5 569.3V515.4M357.2 569.3V517.1M358.8 569.3V514.5M360.4 569.3V521.5M362 569.3V517.2M363.6 569.3V516.1M365.2 569.3V516.7M366.9 569.3V515.9M368.5 569.3V517.6M370.1 569.3V517.4M371.7 569.3V519.2M373.3 569.3V520.5M374.9 569.3V518.8M376.5 569.3V516.5M378.2 569.3V519.9M379.8 569.3V520.4M381.4 569.3V519M383 569.3V518M384.6 569.3V514.7M386.2 569.3V519M387.9 569.3V521.5M389.5 569.3V514.8M391.1 569.3V516.9M392.7 569.3V521.2M394.3 569.3V521.3M395.9 569.3V514.8M397.5 569.3V522M399.2 569.3V516.7M400.8 569.3V521M402.4 569.3V516M404 569.3V518.3M405.6 569.3V522M407.2 569.3V517.6M408.9 569.3V521M410.5 569.3V518.1M412.1 569.3V515.5M413.7 569.3V518.1M415.3 569.3V516.5M416.9 569.3V516.8M418.5 569.3V515.2M420.2 569.3V522.3M421.8 569.3V517.6M423.4 569.3V521M425 569.3V519.2M426.6 569.3V521.4M428.2 569.3V521.6M429.9 569.3V521.8M431.5 569.3V520.7M433.1 569.3V515.4M434.7 569.3V517.5M436.3 569.3V516.2M437.9 569.3V515.4M439.5 569.3V520.1M441.2 569.3V520.6M442.8 569.3V522.2M444.4 569.3V520.6M446 569.3V522.4M447.6 569.3V520M449.2 569.3V519M450.9 569.3V519.5M452.5 569.3V519.3M454.1 569.3V520.1M455.7 569.3V521.8M457.3 569.3V519.7M458.9 569.3V517.7M460.5 569.3V521.2M462.2 569.3V518.7M463.8 569.3V520.6M465.4 569.3V515.8M467 569.3V516.2M468.6 569.3V522.4M470.2 569.3V521.2M471.8 569.3V518.4M473.5 569.3V516.8M475.1 569.3V517.6M476.7 569.3V521.3M478.3 569.3V522.2M479.9 569.3V521.7M481.5 569.3V522.1M483.2 569.3V521.4M484.8 569.3V522.4M486.4 569.3V518.6M488 569.3V521.9M489.6 569.3V518.9M491.2 569.3V517.6M492.8 569.3V519.3M494.5 569.3V522.2M496.1 569.3V519.3M497.7 569.3V522.7M499.3 569.3V520M500.9 569.3V519.4M502.5 569.3V519.7M504.2 569.3V518.9M505.8 569.3V521.2M507.4 569.3V520.6M509 569.3V522M510.6 569.3V522.2M512.2 569.3V519.7M513.8 569.3V522.1M515.5 569.3V516.1M517.1 569.3V520.4M518.7 569.3V520.9M520.3 569.3V518.7M521.9 569.3V522.8M523.5 569.3V522.6M525.2 569.3V518.4M526.8 569.3V517M528.4 569.3V519.5M530 569.3V522.5M531.6 569.3V523M533.2 569.3V520.5M534.8 569.3V517.6M536.5 569.3V520M538.1 569.3V521.9M539.7 569.3V521.7M541.3 569.3V518M542.9 569.3V519M544.5 569.3V523.2M546.2 569.3V519.6M547.8 569.3V517.5M549.4 569.3V518.6M551 569.3V522.6M552.6 569.3V519M554.2 569.3V521.8M555.8 569.3V521M557.5 569.3V519.3M559.1 569.3V521.6M560.7 569.3V518.1M562.3 569.3V519M563.9 569.3V519.8M565.5 569.3V523.1M567.2 569.3V518M568.8 569.3V517.8M570.4 569.3V517.8M572 569.3V522.9M573.6 569.3V521.6M575.2 569.3V516.9M576.8 569.3V523.4M578.5 569.3V519.4M580.1 569.3V521.6M581.7 569.3V522.3M583.3 569.3V517.1M584.9 569.3V516.8M586.5 569.3V518.4M588.1 569.3V520.3M589.8 569.3V523.1M591.4 569.3V522.5M593 569.3V518.2M594.6 569.3V520M596.2 569.3V521.4M597.8 569.3V523M599.5 569.3V520.1M601.1 569.3V521.7M602.7 569.3V521.4M604.3 569.3V523.5M605.9 569.3V520.9M607.5 569.3V518.9M609.1 569.3V520.9M610.8 569.3V521.3M612.4 569.3V521.8M614 569.3V520.4M615.6 569.3V517.2M617.2 569.3V522.2M618.8 569.3V518.5M620.5 569.3V521.6M622.1 569.3V518.4M623.7 569.3V517.8M625.3 569.3V522.2M626.9 569.3V519.9M628.5 569.3V519.9M630.1 569.3V522.1M631.8 569.3V521.7M633.4 569.3V524.2M635 569.3V519.1M636.6 569.3V518.6M638.2 569.3V520.6M639.8 569.3V520.4M641.5 569.3V517.1M643.1 569.3V522.5M644.7 569.3V521.7M646.3 569.3V522.2M647.9 569.3V521M649.5 569.3V523.7M651.1 569.3V519.2M652.8 569.3V518.6M654.4 569.3V523.7M656 569.3V520.7M657.6 569.3V521M659.2 569.3V520.6M660.8 569.3V517.3M662.5 569.3V521.7M277.2 569.3V576.6M278.8 569.3V577.5M280.4 569.3V578.8M282 569.3V584.5M283.7 569.3V597.2M285.3 569.3V599.1M286.9 569.3V600.2M288.5 569.3V602.2M290.1 569.3V603.7M291.7 569.3V603.7M293.4 569.3V605.8M295 569.3V603.2M296.6 569.3V603.9M298.2 569.3V604.1M299.8 569.3V608.2M301.4 569.3V607.9M303 569.3V605.5M304.7 569.3V607.3M306.3 569.3V608.8M307.9 569.3V611.9M309.5 569.3V610.7M311.1 569.3V612.6M312.7 569.3V613.5M314.4 569.3V610.7M316 569.3V614M317.6 569.3V612.6M319.2 569.3V610.4M320.8 569.3V611.8M322.4 569.3V613.2M324 569.3V613.8M325.7 569.3V613.1M327.3 569.3V615.9M328.9 569.3V613.4M330.5 569.3V612.2M332.1 569.3V615.7M333.7 569.3V617.5M335.4 569.3V615.6M337 569.3V616.7M338.6 569.3V617.2M340.2 569.3V619.2M341.8 569.3V615.1M343.4 569.3V613.1M345 569.3V616.7M346.7 569.3V613.7M348.3 569.3V615.6M349.9 569.3V615.2M351.5 569.3V619.3M353.1 569.3V616.2M354.7 569.3V619M356.3 569.3V614.6M358 569.3V614.1M359.6 569.3V616.9M361.2 569.3V616.9M362.8 569.3V617.1M364.4 569.3V619.3M366 569.3V618.5M367.7 569.3V620.2M369.3 569.3V616.4M370.9 569.3V620.4M372.5 569.3V621.6M374.1 569.3V620M375.7 569.3V621.4M377.3 569.3V617.6M379 569.3V621.7M380.6 569.3V622.4M382.2 569.3V620.9M383.8 569.3V616.2M385.4 569.3V619.6M387 569.3V620M388.7 569.3V615.5M390.3 569.3V619.5M391.9 569.3V620.5M393.5 569.3V618.6M395.1 569.3V620.7M396.7 569.3V614.7M398.3 569.3V618.1M400 569.3V619.6M401.6 569.3V617.8M403.2 569.3V614.5M404.8 569.3V617.3M406.4 569.3V620.1M408 569.3V615.4M409.7 569.3V615.5M411.3 569.3V620.6M412.9 569.3V614.1M414.5 569.3V616.2M416.1 569.3V618.7M417.7 569.3V619.5M419.3 569.3V617.6M421 569.3V618.9M422.6 569.3V620.3M424.2 569.3V620.3M425.8 569.3V619.2M427.4 569.3V618.9M429 569.3V617.7M430.7 569.3V619.1M432.3 569.3V618.3M433.9 569.3V619.4M435.5 569.3V618.7M437.1 569.3V615.7M438.7 569.3V614.3M440.3 569.3V616.5M442 569.3V618.5M443.6 569.3V616.1M445.2 569.3V619M446.8 569.3V616.7M448.4 569.3V619.7M450 569.3V619.5M451.7 569.3V615.7M453.3 569.3V616.4M454.9 569.3V615.7M456.5 569.3V615.1M458.1 569.3V617.5M459.7 569.3V617.6M461.3 569.3V615M463 569.3V617.2M464.6 569.3V619.7M466.2 569.3V618.2M467.8 569.3V615.5M469.4 569.3V616.7M471 569.3V615.8M472.6 569.3V613.9M474.3 569.3V617.3M475.9 569.3V617.7M477.5 569.3V614.5M479.1 569.3V615.4M480.7 569.3V613.6M482.3 569.3V619.2M484 569.3V618.4M485.6 569.3V618.7M487.2 569.3V617.1M488.8 569.3V619.8M490.4 569.3V619.4M492 569.3V618M493.6 569.3V617.3M495.3 569.3V614.1M496.9 569.3V613.9M498.5 569.3V618.6M500.1 569.3V613.6M501.7 569.3V615.3M503.3 569.3V618.4M505 569.3V619.1M506.6 569.3V617.7M508.2 569.3V613.4M509.8 569.3V618.4M511.4 569.3V617.9M513 569.3V614.6M514.6 569.3V613.5M516.3 569.3V618.9M517.9 569.3V616.7M519.5 569.3V619.5M521.1 569.3V618.6M522.7 569.3V614.8M524.3 569.3V615.6M526 569.3V617.5M527.6 569.3V616.4M529.2 569.3V617.6M530.8 569.3V618.8M532.4 569.3V615.9M534 569.3V618.3M535.6 569.3V619.7M537.3 569.3V615.2M538.9 569.3V615.7M540.5 569.3V615.3M542.1 569.3V618.9M543.7 569.3V614.9M545.3 569.3V615.1M547 569.3V618.9M548.6 569.3V619.9M550.2 569.3V619.5M551.8 569.3V615.5M553.4 569.3V616.9M555 569.3V619.6M556.6 569.3V617.4M558.3 569.3V615.4M559.9 569.3V613.6M561.5 569.3V614.2M563.1 569.3V619.9M564.7 569.3V614.3M566.3 569.3V618M568 569.3V617.7M569.6 569.3V618.6M571.2 569.3V617.9M572.8 569.3V619.2M574.4 569.3V619.6M576 569.3V613.5M577.6 569.3V616.7M579.3 569.3V618.6M580.9 569.3V617M582.5 569.3V616.2M584.1 569.3V618.9M585.7 569.3V617.3M587.3 569.3V618.8M588.9 569.3V613.4M590.6 569.3V617.1M592.2 569.3V613.4M593.8 569.3V613.2M595.4 569.3V618.2M597 569.3V616M598.6 569.3V614.4M600.3 569.3V617M601.9 569.3V618M603.5 569.3V614.9M605.1 569.3V614.9M606.7 569.3V614.7M608.3 569.3V618.8M609.9 569.3V619.4M611.6 569.3V618.7M613.2 569.3V613M614.8 569.3V615.2M616.4 569.3V614.2M618 569.3V616.3M619.6 569.3V613.7M621.3 569.3V615.4M622.9 569.3V614.4M624.5 569.3V617.2M626.1 569.3V619.3M627.7 569.3V616.4M629.3 569.3V615.4M630.9 569.3V619.4M632.6 569.3V617.5M634.2 569.3V613.4M635.8 569.3V615.7M637.4 569.3V618M639 569.3V614.3M640.6 569.3V616.6M642.3 569.3V615.2M643.9 569.3V619.4M645.5 569.3V618M647.1 569.3V618.5M648.7 569.3V616.4M650.3 569.3V614.4M651.9 569.3V614.4M653.6 569.3V613.1M655.2 569.3V616.2M656.8 569.3V613M658.4 569.3V617.4M660 569.3V616.3M661.6 569.3V615.8M663.3 569.3V615.6" fill="none" stroke="#ee6a3b" stroke-width="1.0" opacity="0.38"/>
<path d="M276.4 569.3V561.6M278 569.3V561.7M279.6 569.3V560.5M281.2 569.3V556.9M282.9 569.3V547.3M284.5 569.3V539.2M286.1 569.3V541M287.7 569.3V541.1M289.3 569.3V541.8M290.9 569.3V544.3M292.6 569.3V548.1M294.2 569.3V550.5M295.8 569.3V550.4M297.4 569.3V552.3M299 569.3V549.2M300.6 569.3V547.8M302.2 569.3V545.1M303.9 569.3V539.5M305.5 569.3V535.9M307.1 569.3V535.4M308.7 569.3V526M310.3 569.3V526.2M311.9 569.3V525.9M313.6 569.3V522.4M315.2 569.3V526.7M316.8 569.3V525.1M318.4 569.3V528.4M320 569.3V534.8M321.6 569.3V538.4M323.2 569.3V542.3M324.9 569.3V545.6M326.5 569.3V548.4M328.1 569.3V547.9M329.7 569.3V546.2M331.3 569.3V541.8M332.9 569.3V535.2M334.6 569.3V534.1M336.2 569.3V529.7M337.8 569.3V526.9M339.4 569.3V523.3M341 569.3V519.3M342.6 569.3V522.2M344.2 569.3V518.1M345.9 569.3V523.8M347.5 569.3V527.5M349.1 569.3V534.1M350.7 569.3V532.3M352.3 569.3V539.5M353.9 569.3V545.5M355.5 569.3V549.6M357.2 569.3V544.6M358.8 569.3V540.7M360.4 569.3V536.5M362 569.3V529.2M363.6 569.3V524.2M365.2 569.3V519.3M366.9 569.3V519M368.5 569.3V515.7M370.1 569.3V509.9M371.7 569.3V520.3M373.3 569.3V526.6M374.9 569.3V531.7M376.5 569.3V536.8M378.2 569.3V540M379.8 569.3V545.9M381.4 569.3V545M383 569.3V540.5M384.6 569.3V534.2M386.2 569.3V530.1M387.9 569.3V527.9M389.5 569.3V523.1M391.1 569.3V517.1M392.7 569.3V515.4M394.3 569.3V518.4M395.9 569.3V521.1M397.5 569.3V529.5M399.2 569.3V533.6M400.8 569.3V538.5M402.4 569.3V546.4M404 569.3V546.4M405.6 569.3V541.1M407.2 569.3V531.3M408.9 569.3V528.3M410.5 569.3V519.8M412.1 569.3V518.5M413.7 569.3V518.7M415.3 569.3V518.1M416.9 569.3V523.7M418.5 569.3V530.1M420.2 569.3V534.7M421.8 569.3V544.4M423.4 569.3V544.8M425 569.3V538.1M426.6 569.3V534.1M428.2 569.3V521.6M429.9 569.3V523.1M431.5 569.3V515.8M433.1 569.3V513.9M434.7 569.3V522.9M436.3 569.3V530.4M437.9 569.3V538.1M439.5 569.3V541.1M441.2 569.3V545M442.8 569.3V539M444.4 569.3V532.4M446 569.3V525.1M447.6 569.3V515M449.2 569.3V516.8M450.9 569.3V524.8M452.5 569.3V528.1M454.1 569.3V533.4M455.7 569.3V540.6M457.3 569.3V544.8M458.9 569.3V539.8M460.5 569.3V533.8M462.2 569.3V526.1M463.8 569.3V521.7M465.4 569.3V519.6M467 569.3V523.4M468.6 569.3V526.4M470.2 569.3V534.5M471.8 569.3V539.5M473.5 569.3V546.6M475.1 569.3V537.7M476.7 569.3V533.9M478.3 569.3V525.6M479.9 569.3V517.5M481.5 569.3V520.2M483.2 569.3V522M484.8 569.3V524.7M486.4 569.3V529.7M488 569.3V537M489.6 569.3V546.1M491.2 569.3V539.7M492.8 569.3V537.4M494.5 569.3V530.7M496.1 569.3V519M497.7 569.3V511.8M499.3 569.3V514.4M500.9 569.3V527.6M502.5 569.3V533M504.2 569.3V536.3M505.8 569.3V543.7M507.4 569.3V543.8M509 569.3V537.7M510.6 569.3V527.4M512.2 569.3V520.4M513.8 569.3V517.3M515.5 569.3V516.6M517.1 569.3V522.2M518.7 569.3V527M520.3 569.3V534.5M521.9 569.3V542.8M523.5 569.3V544.8M525.2 569.3V537.3M526.8 569.3V530.8M528.4 569.3V519M530 569.3V518.5M531.6 569.3V515.9M533.2 569.3V520.2M534.8 569.3V527M536.5 569.3V533.3M538.1 569.3V541.9M539.7 569.3V544.4M541.3 569.3V538.4M542.9 569.3V531.2M544.5 569.3V524.3M546.2 569.3V518.5M547.8 569.3V520.7M549.4 569.3V520M551 569.3V526.3M552.6 569.3V532M554.2 569.3V537.9M555.8 569.3V546.5M557.5 569.3V541.5M559.1 569.3V536.9M560.7 569.3V527.8M562.3 569.3V520.6M563.9 569.3V520.8M565.5 569.3V517.5M567.2 569.3V526.9M568.8 569.3V532.6M570.4 569.3V537.9M572 569.3V544.7M573.6 569.3V542.1M575.2 569.3V534.3M576.8 569.3V526.5M578.5 569.3V521.2M580.1 569.3V521.4M581.7 569.3V522.1M583.3 569.3V521.8M584.9 569.3V534M586.5 569.3V538.7M588.1 569.3V543.6M589.8 569.3V543.5M591.4 569.3V538.7M593 569.3V530.2M594.6 569.3V523M596.2 569.3V519.2M597.8 569.3V519.8M599.5 569.3V521.3M601.1 569.3V530M602.7 569.3V533.8M604.3 569.3V544.3M605.9 569.3V544.3M607.5 569.3V537.3M609.1 569.3V530.6M610.8 569.3V527.2M612.4 569.3V516.3M614 569.3V523M615.6 569.3V521.5M617.2 569.3V525.7M618.8 569.3V536.8M620.5 569.3V540.8M622.1 569.3V546.3M623.7 569.3V539.3M625.3 569.3V535.3M626.9 569.3V524.9M628.5 569.3V514.2M630.1 569.3V515.9M631.8 569.3V517.3M633.4 569.3V528.5M635 569.3V534.2M636.6 569.3V541.4M638.2 569.3V546.1M639.8 569.3V543.2M641.5 569.3V532.8M643.1 569.3V532M644.7 569.3V523.6M646.3 569.3V516.7M647.9 569.3V521.9M649.5 569.3V524.1M651.1 569.3V534.3M652.8 569.3V538.1M654.4 569.3V545.1M656 569.3V543.3M657.6 569.3V535.8M659.2 569.3V529.5M660.8 569.3V524.3M662.5 569.3V519.7M277.2 569.3V573.6M278.8 569.3V573.4M280.4 569.3V573.4M282 569.3V576.7M283.7 569.3V584.8M285.3 569.3V590M286.9 569.3V589.8M288.5 569.3V594.3M290.1 569.3V596.7M291.7 569.3V601.3M293.4 569.3V605.8M295 569.3V606.2M296.6 569.3V608.5M298.2 569.3V605.1M299.8 569.3V606.8M301.4 569.3V602.9M303 569.3V600M304.7 569.3V599.5M306.3 569.3V598.8M307.9 569.3V595.9M309.5 569.3V590.4M311.1 569.3V588.9M312.7 569.3V586.8M314.4 569.3V589.7M316 569.3V592.2M317.6 569.3V595.9M319.2 569.3V600.2M320.8 569.3V602.7M322.4 569.3V607.8M324 569.3V613M325.7 569.3V618M327.3 569.3V616.8M328.9 569.3V621.4M330.5 569.3V615.9M332.1 569.3V613.3M333.7 569.3V609.8M335.4 569.3V603.7M337 569.3V600.4M338.6 569.3V597M340.2 569.3V592.8M341.8 569.3V590M343.4 569.3V592.7M345 569.3V596.3M346.7 569.3V599.1M348.3 569.3V602M349.9 569.3V607.4M351.5 569.3V615.1M353.1 569.3V618.6M354.7 569.3V617.2M356.3 569.3V616.4M358 569.3V616.5M359.6 569.3V614.2M361.2 569.3V609M362.8 569.3V604.1M364.4 569.3V601.5M366 569.3V598.6M367.7 569.3V590M369.3 569.3V590.9M370.9 569.3V595M372.5 569.3V600.6M374.1 569.3V605.9M375.7 569.3V611.4M377.3 569.3V614.7M379 569.3V622.4M380.6 569.3V618.9M382.2 569.3V620.8M383.8 569.3V615.9M385.4 569.3V612.5M387 569.3V606.2M388.7 569.3V598.4M390.3 569.3V596.2M391.9 569.3V592.6M393.5 569.3V595.3M395.1 569.3V600.1M396.7 569.3V601.8M398.3 569.3V609.2M400 569.3V612.4M401.6 569.3V622M403.2 569.3V618.4M404.8 569.3V615.6M406.4 569.3V615M408 569.3V605.2M409.7 569.3V600M411.3 569.3V597.2M412.9 569.3V593.1M414.5 569.3V595.8M416.1 569.3V600.6M417.7 569.3V605.9M419.3 569.3V611.4M421 569.3V615.6M422.6 569.3V620.1M424.2 569.3V620.6M425.8 569.3V615M427.4 569.3V609.5M429 569.3V599.3M430.7 569.3V595.5M432.3 569.3V592.9M433.9 569.3V597.1M435.5 569.3V604M437.1 569.3V611.7M438.7 569.3V614.9M440.3 569.3V616.8M442 569.3V617.9M443.6 569.3V613.3M445.2 569.3V606.3M446.8 569.3V597.4M448.4 569.3V591.2M450 569.3V597.9M451.7 569.3V600.3M453.3 569.3V607.3M454.9 569.3V617.8M456.5 569.3V619.6M458.1 569.3V614.2M459.7 569.3V614.1M461.3 569.3V605.8M463 569.3V600.1M464.6 569.3V591.9M466.2 569.3V593.2M467.8 569.3V602.5M469.4 569.3V608.5M471 569.3V613.1M472.6 569.3V619.3M474.3 569.3V617.7M475.9 569.3V615.7M477.5 569.3V604.3M479.1 569.3V599.1M480.7 569.3V593.5M482.3 569.3V594.9M484 569.3V598.6M485.6 569.3V608.6M487.2 569.3V609M488.8 569.3V622.5M490.4 569.3V618.9M492 569.3V612.1M493.6 569.3V605.6M495.3 569.3V603.5M496.9 569.3V594.4M498.5 569.3V592.1M500.1 569.3V597.7M501.7 569.3V606.5M503.3 569.3V613.1M505 569.3V614M506.6 569.3V619.7M508.2 569.3V614.7M509.8 569.3V606.8M511.4 569.3V601.3M513 569.3V599.5M514.6 569.3V590.5M516.3 569.3V595.8M517.9 569.3V601.5M519.5 569.3V611.9M521.1 569.3V617M522.7 569.3V621.4M524.3 569.3V617.2M526 569.3V612.6M527.6 569.3V604.2M529.2 569.3V600.4M530.8 569.3V594.3M532.4 569.3V596.8M534 569.3V600.6M535.6 569.3V608.3M537.3 569.3V615.7M538.9 569.3V617.3M540.5 569.3V619.1M542.1 569.3V616.6M543.7 569.3V605.6M545.3 569.3V600M547 569.3V592.8M548.6 569.3V595.3M550.2 569.3V600.7M551.8 569.3V608.5M553.4 569.3V611.4M555 569.3V616.4M556.6 569.3V618.8M558.3 569.3V614M559.9 569.3V609.1M561.5 569.3V598.8M563.1 569.3V593.2M564.7 569.3V592.6M566.3 569.3V598.7M568 569.3V602.9M569.6 569.3V613.7M571.2 569.3V619.5M572.8 569.3V619.5M574.4 569.3V615.4M576 569.3V608.1M577.6 569.3V603.7M579.3 569.3V598.1M580.9 569.3V592.8M582.5 569.3V598.9M584.1 569.3V605.8M585.7 569.3V608.5M587.3 569.3V618.8M588.9 569.3V616.9M590.6 569.3V614.6M592.2 569.3V613.3M593.8 569.3V606.1M595.4 569.3V599.1M597 569.3V590.7M598.6 569.3V598.4M600.3 569.3V603.5M601.9 569.3V611.3M603.5 569.3V616.1M605.1 569.3V615.8M606.7 569.3V615.1M608.3 569.3V608.1M609.9 569.3V607.7M611.6 569.3V598.7M613.2 569.3V591.7M614.8 569.3V595.5M616.4 569.3V601.6M618 569.3V608.4M619.6 569.3V612.3M621.3 569.3V619.8M622.9 569.3V616.8M624.5 569.3V609.9M626.1 569.3V607M627.7 569.3V601.6M629.3 569.3V595.5M630.9 569.3V594.7M632.6 569.3V602M634.2 569.3V606.4M635.8 569.3V610.2M637.4 569.3V618M639 569.3V617.8M640.6 569.3V614.4M642.3 569.3V609.3M643.9 569.3V602.6M645.5 569.3V595.4M647.1 569.3V592.5M648.7 569.3V598.6M650.3 569.3V602.5M651.9 569.3V609.2M653.6 569.3V615.2M655.2 569.3V616.9M656.8 569.3V612.5M658.4 569.3V609.5M660 569.3V602.1M661.6 569.3V594.8M663.3 569.3V590.9" fill="none" stroke="#ee6a3b" stroke-width="1.0"/>
<polygon points="276,565.5 277.1,563.6 278.2,561.9 279.3,561 280.4,559.6 281.5,558.1 282.6,557.2 283.7,557.7 284.8,555.4 285.9,554.8 287,554 288.1,553.6 289.2,554.7 290.3,553.1 291.4,553.1 292.5,553.6 293.6,552.6 294.7,551.9 295.8,551.2 296.9,550.7 298,549.5 299.1,548.9 300.2,548.4 301.3,546.9 302.4,547.2 303.5,547 304.6,547.4 305.7,547.6 306.8,547.3 307.9,547.4 309,547.8 310.1,548.7 311.2,548.8 312.3,550 313.4,550 314.5,550.8 315.6,551.9 316.7,552.7 317.8,551.7 318.9,551.4 320,552.3 321.1,552.4 322.2,551.4 323.3,552 324.4,551.9 325.5,551.5 326.6,550.3 327.7,548.8 328.8,549.2 329.9,547.3 331,547.4 332.1,546.7 333.2,546.6 334.3,547.2 335.4,547.6 336.5,546.7 337.6,547.5 338.7,546.6 339.8,548.3 340.9,549 342,549.9 343.1,549.7 344.2,551.2 345.3,551 346.4,551.9 347.5,551.9 348.6,551.9 349.7,552.4 350.8,551.9 351.9,552.6 353,551 354.1,551.4 355.2,550.5 356.3,549.5 357.4,549.1 358.5,548 359.6,548.3 360.7,548.5 361.8,548.6 362.9,548 364,547.5 365.1,547.6 366.2,548.3 367.3,550.2 368.4,551.1 369.5,550.8 370.6,552.1 371.7,552.3 372.8,552 373.9,552.4 375,553.2 376.1,553.5 377.2,552.1 378.3,552.8 379.4,552 380.5,550.5 381.6,550.2 382.7,549.6 383.8,548.4 384.9,548.7 386,549.8 387.1,550 388.2,548.7 389.3,549.1 390.4,550.6 391.5,550.6 392.6,552.3 393.7,553 394.8,553.5 395.9,553.6 397,553.7 398.1,552.9 399.2,553.1 400.3,553.7 401.4,552.7 402.5,552.6 403.6,550.8 404.7,551.2 405.8,550.3 406.9,550.6 408,549.7 409.1,550.7 410.2,549.6 411.3,550.8 412.4,551 413.5,551.6 414.6,553.4 415.7,554.7 416.8,553.5 417.9,553.5 419,553.8 420.1,554.3 421.2,554.1 422.3,553.1 423.4,552.5 424.5,551.7 425.6,550.5 426.7,550.2 427.8,551.4 428.9,550.9 430,551.5 431.1,551.7 432.2,553.5 433.3,553.2 434.4,554 435.5,554.8 436.6,553.8 437.7,554 438.8,554.1 439.9,553.3 441,552.5 442.1,551.5 443.2,551.1 444.3,550.6 445.4,551 446.5,551.4 447.6,552.6 448.7,553.4 449.8,553.7 450.9,554.4 452,555 453.1,554.3 454.2,554 455.3,554.6 456.4,553.7 457.5,551.7 458.6,551.6 459.7,550.9 460.8,551.3 461.9,550.9 463,551.3 464.1,552.7 465.2,552.5 466.3,553.6 467.4,554.8 468.5,554.9 469.6,554.7 470.7,555.3 471.8,554.7 472.9,553.7 474,552.2 475.1,551.1 476.2,550.6 477.3,551.2 478.4,551.6 479.5,551.3 480.6,551.9 481.7,553.2 482.8,554.6 483.9,555.1 485,554.5 486.1,555.2 487.2,555.4 488.3,554.4 489.4,552.9 490.5,552.4 491.6,551.8 492.7,550.9 493.8,551.2 494.9,551.1 496,551.3 497.1,551.6 498.2,552.4 499.3,553.2 500.4,554.9 501.5,554.5 502.6,554.9 503.7,554.2 504.8,553.6 505.9,553.9 507,553 508.1,551.2 509.2,550.8 510.3,550.6 511.4,552 512.5,551.9 513.6,551.4 514.7,552.7 515.8,553.9 516.9,555.2 518,554 519.1,554.1 520.2,554.6 521.3,553.8 522.4,553.4 523.5,552.5 524.6,551.2 525.7,551.4 526.8,551.2 527.9,552.2 529,552 530.1,552 531.2,553.5 532.3,553.8 533.4,554.5 534.5,554.7 535.6,555.5 536.7,555.1 537.8,554.9 538.9,553.8 540,552 541.1,552.2 542.2,551.8 543.3,551 544.4,550.9 545.5,552.3 546.6,551.7 547.7,553.6 548.8,553.5 549.9,554.8 551,555.1 552.1,555.5 553.2,555.5 554.3,555 555.4,553.3 556.5,552.9 557.6,551.8 558.7,550.8 559.8,551.6 560.9,552 562,551 563.1,552.3 564.2,553.8 565.3,554 566.4,554.6 567.5,555.1 568.6,555.4 569.7,554.1 570.8,554.3 571.9,553.8 573,553.3 574.1,551.5 575.2,551.3 576.3,551.8 577.4,550.9 578.5,552 579.6,552.3 580.7,553.5 581.8,554.9 582.9,554.1 584,555 585.1,554.9 586.2,555.2 587.3,555.2 588.4,553.6 589.5,552.8 590.6,552.2 591.7,552.1 592.8,551.2 593.9,551 595,551.1 596.1,551.9 597.2,553.8 598.3,553.6 599.4,555 600.5,554.5 601.6,555 602.7,555.1 603.8,553.9 604.9,554.2 606,553.3 607.1,552.7 608.2,551.3 609.3,552.4 610.4,551.8 611.5,551.5 612.6,553 613.7,553.8 614.8,553.9 615.9,555.3 617,555.7 618.1,555.4 619.2,554.7 620.3,554.8 621.4,554.1 622.5,553.4 623.6,552.5 624.7,551.8 625.8,551.9 626.9,551.1 628,551.6 629.1,552.2 630.2,553.4 631.3,554.5 632.4,555.3 633.5,555.3 634.6,554.5 635.7,555.7 636.8,554.4 637.9,553.9 639,552.9 640.1,552.9 641.2,551.7 642.3,551.8 643.4,551.2 644.5,551.3 645.6,552.1 646.7,554.1 647.8,554 648.9,555.7 650,554.7 651.1,554.2 652.2,555.5 653.3,554.8 654.4,553.5 655.5,552.2 656.6,553 657.7,551.5 658.8,552.5 659.9,551.2 661,552.5 662.1,553 663.5,554 663.5,584.6 662.1,583.7 661,584.2 659.9,583.4 658.8,583.9 657.7,584.3 656.6,583.6 655.5,585.1 654.4,584.8 653.3,586.3 652.2,586.6 651.1,586.2 650,586.4 648.9,587.1 647.8,586.8 646.7,585.2 645.6,583.9 644.5,583.2 643.4,583.1 642.3,583.9 641.2,583.9 640.1,583.7 639,585.2 637.9,586.1 636.8,586.1 635.7,586.2 634.6,587.1 633.5,585.9 632.4,586.9 631.3,585.7 630.2,585.9 629.1,584.5 628,583.5 626.9,583.8 625.8,583.2 624.7,584 623.6,584.6 622.5,585.1 621.4,585 620.3,587.1 619.2,586.1 618.1,586 617,586 615.9,586.1 614.8,586.1 613.7,585.8 612.6,583.8 611.5,583.9 610.4,583.2 609.3,583.7 608.2,583.3 607.1,584.6 606,585.5 604.9,585.5 603.8,587.3 602.7,586.6 601.6,587 600.5,587.6 599.4,587.4 598.3,585.4 597.2,585.9 596.1,585.2 595,583.6 593.9,583.7 592.8,583.7 591.7,584.1 590.6,583.3 589.5,584.6 588.4,585.4 587.3,586.2 586.2,586.8 585.1,586.6 584,586.8 582.9,587.3 581.8,586 580.7,585.6 579.6,584.3 578.5,583.1 577.4,584.5 576.3,584.5 575.2,584.2 574.1,583.9 573,584.4 571.9,586 570.8,585.9 569.7,587.5 568.6,587.4 567.5,587 566.4,587.4 565.3,586.7 564.2,585.2 563.1,584 562,584.1 560.9,584.3 559.8,583.1 558.7,584.3 557.6,584.6 556.5,585.3 555.4,586.1 554.3,587.3 553.2,587.4 552.1,587.5 551,586.7 549.9,586.4 548.8,586.7 547.7,585.2 546.6,584.1 545.5,584.3 544.4,583.5 543.3,583.2 542.2,584.6 541.1,583.5 540,584.2 538.9,585.4 537.8,586.2 536.7,586.7 535.6,587.4 534.5,587.6 533.4,587.4 532.3,585.9 531.2,585.6 530.1,585.1 529,584.4 527.9,584.1 526.8,584.2 525.7,583.5 524.6,583.6 523.5,585.3 522.4,585.7 521.3,587.6 520.2,586.8 519.1,587.7 518,586.5 516.9,587.8 515.8,587.3 514.7,585.1 513.6,584.2 512.5,584.5 511.4,584.3 510.3,583.3 509.2,583.8 508.1,584.2 507,584.7 505.9,586.7 504.8,587.7 503.7,587.1 502.6,587.5 501.5,587.7 500.4,588 499.3,587.1 498.2,585.3 497.1,584.5 496,583.3 494.9,584.1 493.8,583.2 492.7,584.5 491.6,584 490.5,584.6 489.4,586.2 488.3,587.5 487.2,587.1 486.1,587.2 485,588.1 483.9,586.9 482.8,586.7 481.7,585.3 480.6,585.5 479.5,583.9 478.4,583.4 477.3,583.3 476.2,583.8 475.1,584.8 474,584.6 472.9,586.7 471.8,586.5 470.7,587.1 469.6,587 468.5,588.1 467.4,587.7 466.3,586.5 465.2,585.5 464.1,585.3 463,584 461.9,584.2 460.8,583.3 459.7,583.8 458.6,584.2 457.5,584.6 456.4,586.3 455.3,586.8 454.2,586.9 453.1,588.1 452,587.9 450.9,586.7 449.8,586.5 448.7,585.3 447.6,585.3 446.5,583.7 445.4,584.5 444.3,584.6 443.2,584.3 442.1,585.1 441,585.8 439.9,586.7 438.8,587.5 437.7,587.2 436.6,588.2 435.5,587.6 434.4,587.6 433.3,587.2 432.2,586.4 431.1,584.8 430,584.9 428.9,583.8 427.8,584 426.7,583.6 425.6,583.6 424.5,584.7 423.4,585.6 422.3,586.9 421.2,586.9 420.1,587.6 419,588.3 417.9,588.5 416.8,588.7 415.7,588.8 414.6,587.7 413.5,585.8 412.4,585.9 411.3,584.3 410.2,585.4 409.1,584 408,585.2 406.9,584.3 405.8,585.7 404.7,585.5 403.6,586.1 402.5,587.8 401.4,588.1 400.3,588.9 399.2,589.6 398.1,589 397,588.4 395.9,589 394.8,588.3 393.7,588.5 392.6,586.8 391.5,586.4 390.4,586.4 389.3,586.1 388.2,585.6 387.1,585.5 386,585.6 384.9,585 383.8,585.5 382.7,586 381.6,587.4 380.5,588.6 379.4,589.2 378.3,588.8 377.2,589.4 376.1,590.3 375,590.2 373.9,590 372.8,590.1 371.7,590.3 370.6,589.2 369.5,588.3 368.4,588.2 367.3,587.6 366.2,586.3 365.1,586.1 364,585.5 362.9,587.1 361.8,586.6 360.7,586.9 359.6,587.2 358.5,586.6 357.4,587.4 356.3,587.9 355.2,589.3 354.1,590.5 353,591 351.9,590.7 350.8,590.9 349.7,591.4 348.6,591.2 347.5,590.9 346.4,590.8 345.3,591.1 344.2,590 343.1,590.6 342,589.1 340.9,587.7 339.8,587.8 338.7,587.2 337.6,586.9 336.5,586.8 335.4,586.6 334.3,587.1 333.2,587.5 332.1,586.3 331,587 329.9,588.5 328.8,589.1 327.7,589.1 326.6,589.6 325.5,590.2 324.4,590.9 323.3,591.7 322.2,590.9 321.1,592.2 320,591.2 318.9,592.1 317.8,590.9 316.7,591.6 315.6,590.3 314.5,589.4 313.4,589.3 312.3,588.3 311.2,587.9 310.1,587.2 309,587.1 307.9,586.3 306.8,586.4 305.7,585.7 304.6,586 303.5,586.8 302.4,585.4 301.3,586.2 300.2,585.7 299.1,586.7 298,586.9 296.9,588.7 295.8,589.1 294.7,588.5 293.6,588.8 292.5,589.1 291.4,587.5 290.3,588.1 289.2,587.7 288.1,586.9 287,585.6 285.9,585.3 284.8,583.7 283.7,582.5 282.6,581.6 281.5,579.6 280.4,578.5 279.3,578.1 278.2,576 277.1,573.9 276,572.6" fill="#ee6a3b"/>
<text x="76.3" y="530.8" font-size="18.7" text-anchor="end" fill="#2a2a2a">5</text>
<text x="76.3" y="576.2" font-size="18.7" text-anchor="end" fill="#2a2a2a">0</text>
<text x="76.3" y="620.7" font-size="18.7" text-anchor="end" fill="#2a2a2a">-5</text>
<text x="82" y="654" font-size="18.2" text-anchor="middle" fill="#2a2a2a">0</text>
<text x="178.9" y="654" font-size="18.2" text-anchor="middle" fill="#2a2a2a">1</text>
<text x="275.8" y="654" font-size="18.2" text-anchor="middle" fill="#2a2a2a">2</text>
<text x="372.8" y="654" font-size="18.2" text-anchor="middle" fill="#2a2a2a">3</text>
<text x="469.7" y="654" font-size="18.2" text-anchor="middle" fill="#2a2a2a">4</text>
<text x="566.6" y="654" font-size="18.2" text-anchor="middle" fill="#2a2a2a">5</text>
<text x="663.5" y="654" font-size="18.2" text-anchor="middle" fill="#2a2a2a">6</text>
<text x="313.3" y="676.2" font-size="19.5" textLength="124.6" lengthAdjust="spacingAndGlyphs" fill="#2a2a2a">Time (Seconds)</text>
<text transform="translate(46.9 607.4) rotate(-90)" font-size="19.5" fill="#2a2a2a">I</text>
<text transform="translate(57.4 600.6) rotate(-90)" font-size="14.8" textLength="21.6" lengthAdjust="spacingAndGlyphs" fill="#2a2a2a">575</text>
<text transform="translate(46.9 576.8) rotate(-90)" font-size="19.6" textLength="46" lengthAdjust="spacingAndGlyphs" fill="#2a2a2a">(p.u.)</text>
<text x="217.6" y="504.8" font-size="17.8" textLength="44.6" lengthAdjust="spacingAndGlyphs" fill="#2a2a2a">Stable</text>
<text x="285.6" y="504.8" font-size="17.8" textLength="63.2" lengthAdjust="spacingAndGlyphs" fill="#2a2a2a">Unstable</text>
<path d="M209.8 509.7H341.4" stroke="#2a2a2a" stroke-width="1.2" fill="none"/>
<path d="M206.8 509.7l6.8 -3.1v6.2z" fill="#000"/>
<path d="M344.4 509.7l-6.8 -3.1v6.2z" fill="#000"/>
<path d="M275 512.2V632.2" stroke="#000" stroke-width="1.25" stroke-dasharray="5.3 2.9" fill="none"/>
<text x="204" y="609.5" font-size="18" font-style="italic" textLength="11" lengthAdjust="spacingAndGlyphs" fill="#2a2a2a">P</text>
<text x="215.4" y="612.5" font-size="12.5" fill="#2a2a2a">1</text>
<path d="M221.7 603L262.3 585.9" stroke="#000" stroke-width="1" fill="none"/>
<path d="M265.1 584.7L259.1 590.5L256.7 585z" fill="#000"/>
<text x="97.7" y="545.8" font-size="18" font-style="italic" textLength="10.8" lengthAdjust="spacingAndGlyphs" fill="#2a2a2a">P</text>
<text x="108.5" y="548.6" font-size="12.5" fill="#2a2a2a">1</text>
<text x="115.1" y="545.8" font-size="18" fill="#2a2a2a">:</text>
<text x="124.3" y="545.8" font-size="18" font-style="italic" textLength="11.3" lengthAdjust="spacingAndGlyphs" fill="#2a2a2a">C</text>
<text x="135.9" y="548.6" font-size="12.5" fill="#2a2a2a">f</text>
<text x="145.5" y="545.8" font-size="18" textLength="9.6" lengthAdjust="spacingAndGlyphs" fill="#2a2a2a">=</text>
<text x="160.1" y="545.8" font-size="18" textLength="49.6" lengthAdjust="spacingAndGlyphs" fill="#2a2a2a">0.006F</text>
<text x="211.7" y="542.9" font-size="18" textLength="14.5" lengthAdjust="spacingAndGlyphs" fill="#2a2a2a">→</text>
<path d="M211.7 539.4H221.7" stroke="#111" stroke-width="1.1" fill="none"/>
<path d="M226.5 539.4l-6.2 -2.4v4.8z" fill="#111"/>
<text x="228.7" y="545.8" font-size="18" textLength="40" lengthAdjust="spacingAndGlyphs" fill="#2a2a2a">0.01F</text>
<text x="106.6" y="703.4" font-size="18.2" textLength="469.6" lengthAdjust="spacingAndGlyphs" fill="#2a2a2a">(c) The output three-phase current of the PMSG based wind farm.</text>
</svg>
</body></html>
